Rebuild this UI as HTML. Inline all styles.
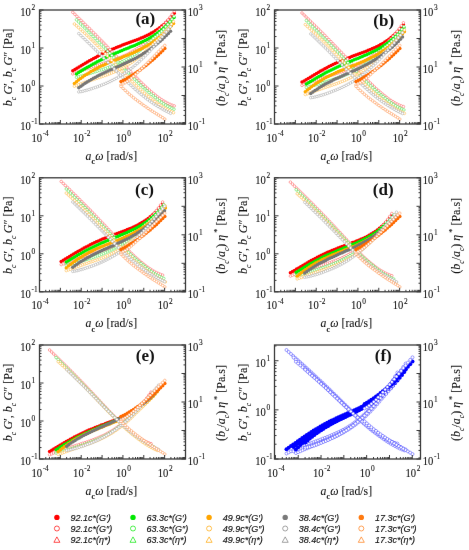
<!DOCTYPE html>
<html><head><meta charset="utf-8"><style>
html,body{margin:0;padding:0;background:#fff;width:469px;height:550px;overflow:hidden}
svg{display:block}
.tl{font-family:"Liberation Serif",serif;font-size:11.8px;fill:#111;stroke:#111;stroke-width:0.1px}
.sp{font-size:8.2px}
.at{font-family:"Liberation Serif",serif;font-size:12px;fill:#111;stroke:#111;stroke-width:0.08px}
.i{font-style:italic}
.xt{font-size:11.7px}
.sb{font-size:7.5px}
.b{font-weight:bold}
.pl{font-family:"Liberation Serif",serif;font-weight:bold;font-size:17px;fill:#111}
.lg{font-family:"Liberation Sans",sans-serif;font-style:italic;font-size:9px;fill:#111;stroke:#111;stroke-width:0.15px}
</style></head><body>
<svg width="469" height="550" viewBox="0 0 469 550">
<rect width="469" height="550" fill="#fff"/><filter id="bl" x="0" y="0" width="469" height="550" filterUnits="userSpaceOnUse" color-interpolation-filters="sRGB"><feConvolveMatrix order="3" kernelMatrix="0.0010 0.0313 0.0010 0.0313 1.0000 0.0313 0.0010 0.0313 0.0010" edgeMode="duplicate"/></filter><g filter="url(#bl)">
<defs>
<marker id="fr" markerUnits="userSpaceOnUse" markerWidth="6" markerHeight="6" refX="3" refY="3" overflow="visible"><circle cx="3" cy="3" r="1.75" fill="#ff0000"/></marker>
<marker id="or" markerUnits="userSpaceOnUse" markerWidth="6" markerHeight="6" refX="3" refY="3" overflow="visible"><circle cx="3" cy="3" r="1.3" fill="#fff" stroke="#ff5050" stroke-width="0.5"/></marker>
<marker id="fg" markerUnits="userSpaceOnUse" markerWidth="6" markerHeight="6" refX="3" refY="3" overflow="visible"><circle cx="3" cy="3" r="1.75" fill="#00ee00"/></marker>
<marker id="og" markerUnits="userSpaceOnUse" markerWidth="6" markerHeight="6" refX="3" refY="3" overflow="visible"><circle cx="3" cy="3" r="1.3" fill="#fff" stroke="#40e040" stroke-width="0.5"/></marker>
<marker id="fo" markerUnits="userSpaceOnUse" markerWidth="6" markerHeight="6" refX="3" refY="3" overflow="visible"><circle cx="3" cy="3" r="1.75" fill="#ffaa00"/></marker>
<marker id="oo" markerUnits="userSpaceOnUse" markerWidth="6" markerHeight="6" refX="3" refY="3" overflow="visible"><circle cx="3" cy="3" r="1.3" fill="#fff" stroke="#ffb030" stroke-width="0.5"/></marker>
<marker id="fk" markerUnits="userSpaceOnUse" markerWidth="6" markerHeight="6" refX="3" refY="3" overflow="visible"><circle cx="3" cy="3" r="1.75" fill="#777777"/></marker>
<marker id="ok" markerUnits="userSpaceOnUse" markerWidth="6" markerHeight="6" refX="3" refY="3" overflow="visible"><circle cx="3" cy="3" r="1.3" fill="#fff" stroke="#a0a0a0" stroke-width="0.5"/></marker>
<marker id="fd" markerUnits="userSpaceOnUse" markerWidth="6" markerHeight="6" refX="3" refY="3" overflow="visible"><circle cx="3" cy="3" r="1.75" fill="#ff6a00"/></marker>
<marker id="od" markerUnits="userSpaceOnUse" markerWidth="6" markerHeight="6" refX="3" refY="3" overflow="visible"><circle cx="3" cy="3" r="1.3" fill="#fff" stroke="#ff8a40" stroke-width="0.5"/></marker>
<marker id="fb" markerUnits="userSpaceOnUse" markerWidth="6" markerHeight="6" refX="3" refY="3" overflow="visible"><circle cx="3" cy="3" r="2.0" fill="#0000ff"/></marker>
<marker id="ob" markerUnits="userSpaceOnUse" markerWidth="6" markerHeight="6" refX="3" refY="3" overflow="visible"><circle cx="3" cy="3" r="1.5" fill="#fff" stroke="#4040ff" stroke-width="0.5"/></marker>
</defs>
<g fill="none" stroke="none">
<svg x="39.5" y="10.0" width="146.0" height="114.0" viewBox="39.5 10.0 146.0 114.0" overflow="hidden">
<polyline points="72.8,70.7 74.9,69.5 76.9,68.2 79,67 81.1,65.7 83.1,64.5 85.2,63.3 87.3,62 89.4,60.8 91.4,59.7 93.5,58.5 95.6,57.4 97.6,56.3 99.7,55.2 101.8,54.1 103.8,53.1 105.9,52.1 108,51.1 110,50.2 112.1,49.3 114.2,48.4 116.3,47.6 118.3,46.7 120.4,45.9 122.5,45.1 124.5,44.3 126.6,43.6 128.7,42.8 130.7,42 132.8,41.3 134.9,40.5 137,39.7 139,38.9 141.1,38 143.2,37.2 145.2,36.2 147.3,35.2 149.4,34.2 151.4,33.1 153.5,31.9 155.6,30.6 157.6,29.2 159.7,27.8 161.8,26.1 163.9,24.4 165.9,22.5 168,20.5 170.1,18.2 172.1,15.9 174.2,13.3" marker-start="url(#fr)" marker-mid="url(#fr)" marker-end="url(#fr)"/>
<polyline points="72.8,73.9 74.9,73.1 76.9,72.2 79,71.4 81.1,70.7 83.1,69.9 85.2,69.2 87.3,68.5 89.4,67.8 91.4,67.1 93.5,66.5 95.6,65.8 97.6,65.2 99.7,64.5 101.8,63.9 103.8,63.2 105.9,62.5 108,61.9 110,61.2 112.1,60.5 114.2,59.7 116.3,59 118.3,58.2 120.4,57.4 122.5,56.5 124.5,55.6 126.6,54.7 128.7,53.7 130.7,52.5 132.8,51.3 134.9,50.1 137,48.8 139,47.4 141.1,45.9 143.2,44.4 145.2,42.7 147.3,41 149.4,39.2 151.4,37.3 153.5,35.3 155.6,33.5 157.6,31.5 159.7,29.5 161.8,27.3 163.9,25 165.9,22.5 168,19.9 170.1,17.2 172.1,14.3 174.2,11.3" marker-start="url(#or)" marker-mid="url(#or)" marker-end="url(#or)"/>
<polyline points="72.8,12.3 74.9,14.3 76.9,16.4 79,18.4 81.1,20.4 83.1,22.4 85.2,24.5 87.3,26.5 89.4,28.5 91.4,30.6 93.5,32.7 95.6,34.7 97.6,36.8 99.7,38.9 101.8,41 103.8,43.1 105.9,45.3 108,47.4 110,49.6 112.1,51.8 114.2,54 116.3,56.2 118.3,58.4 120.4,60.6 122.5,62.8 124.5,65 126.6,67.3 128.7,69.5 130.7,71.7 132.8,73.9 134.9,76 137,78.2 139,80.3 141.1,82.3 143.2,84.4 145.2,86.3 147.3,88.2 149.4,90.1 151.4,91.9 153.5,93.6 155.6,95.3 157.6,96.9 159.7,98.4 161.8,99.8 163.9,101.1 165.9,102.3 168,103.4 170.1,104.4 172.1,105.2 174.2,105.9" marker-start="url(#or)" marker-mid="url(#or)" marker-end="url(#or)"/>
<polyline points="76.5,73.9 78.6,72.6 80.6,71.3 82.7,70.1 84.8,68.8 86.9,67.6 88.9,66.4 91,65.2 93.1,64.1 95.2,62.9 97.2,61.8 99.3,60.8 101.4,59.7 103.5,58.7 105.5,57.7 107.6,56.7 109.7,55.8 111.8,54.9 113.8,54 115.9,53.1 118,52.2 120.1,51.3 122.1,50.5 124.2,49.6 126.3,48.8 128.4,48 130.4,47.1 132.5,46.2 134.6,45.4 136.7,44.5 138.7,43.5 140.8,42.6 142.9,41.6 145,40.6 147,39.5 149.1,38.3 151.2,37.1 153.3,35.9 155.3,34.5 157.4,33.1 159.5,31.6 161.6,29.9 163.6,28.2 165.7,26.3 167.8,24.3 169.9,22.2 171.9,19.9 174,17.5" marker-start="url(#fg)" marker-mid="url(#fg)" marker-end="url(#fg)"/>
<polyline points="76.5,77.3 78.6,76.7 80.6,76.2 82.7,75.6 84.8,75 86.9,74.3 88.9,73.7 91,73.1 93.1,72.5 95.2,71.8 97.2,71.2 99.3,70.5 101.4,69.9 103.5,69.2 105.5,68.5 107.6,67.7 109.7,67 111.8,66.2 113.8,65.4 115.9,64.5 118,63.7 120.1,62.7 122.1,61.7 124.2,60.7 126.3,59.6 128.4,58.5 130.4,57.3 132.5,56 134.6,54.6 136.7,53.1 138.7,51.5 140.8,49.9 142.9,48.1 145,46.3 147,44.5 149.1,42.5 151.2,40.5 153.3,38.4 155.3,36.7 157.4,35 159.5,33.1 161.6,31.2 163.6,29.2 165.7,26.8 167.8,24.4 169.9,21.8 171.9,19.2 174,16.4" marker-start="url(#og)" marker-mid="url(#og)" marker-end="url(#og)"/>
<polyline points="76.5,19.8 78.6,21.9 80.6,24 82.7,26 84.8,28.1 86.9,30.2 88.9,32.2 91,34.3 93.1,36.4 95.2,38.5 97.2,40.6 99.3,42.7 101.4,44.8 103.5,46.9 105.5,49 107.6,51.2 109.7,53.3 111.8,55.5 113.8,57.7 115.9,59.8 118,62 120.1,64.2 122.1,66.4 124.2,68.6 126.3,70.7 128.4,72.9 130.4,75 132.5,77.1 134.6,79.2 136.7,81.2 138.7,83.3 140.8,85.2 142.9,87.2 145,89 147,90.8 149.1,92.6 151.2,94.3 153.3,95.9 155.3,97.6 157.4,99.3 159.5,100.9 161.6,102.4 163.6,103.8 165.7,105.1 167.8,106.3 169.9,107.3 171.9,108.3 174,109.2" marker-start="url(#og)" marker-mid="url(#og)" marker-end="url(#og)"/>
<polyline points="74.4,83.5 76.5,81.7 78.5,80.1 80.6,78.5 82.7,77 84.7,75.5 86.8,74.2 88.9,72.9 90.9,71.6 93,70.4 95,69.3 97.1,68.2 99.2,67.1 101.2,66.1 103.3,65.2 105.4,64.2 107.4,63.3 109.5,62.4 111.6,61.6 113.6,60.7 115.7,59.9 117.8,59.1 119.8,58.2 121.9,57.4 123.9,56.6 126,55.8 128.1,54.9 130.1,54 132.2,53.2 134.3,52.2 136.3,51.3 138.4,50.3 140.5,49.3 142.5,48.2 144.6,47.1 146.7,45.9 148.7,44.7 150.8,43.4 152.9,42 154.9,40.6 157,39.1 159,37.5 161.1,35.8 163.2,34 165.2,32.1 167.3,30.1 169.4,28 171.4,25.8 173.5,23.5" marker-start="url(#fo)" marker-mid="url(#fo)" marker-end="url(#fo)"/>
<polyline points="74.4,86.2 76.5,85.5 78.5,84.8 80.6,84 82.7,83.3 84.7,82.5 86.8,81.8 88.9,81.1 90.9,80.3 93,79.6 95,78.9 97.1,78.2 99.2,77.5 101.2,76.8 103.3,76.1 105.4,75.4 107.4,74.6 109.5,73.8 111.6,73 113.6,72.2 115.7,71.3 117.8,70.3 119.8,69.3 121.9,68.3 123.9,67.2 126,66 128.1,64.8 130.1,63.5 132.2,62.1 134.3,60.6 136.3,59.1 138.4,57.5 140.5,55.9 142.5,54.1 144.6,52.3 146.7,50.4 148.7,48.4 150.8,46.4 152.9,44.3 154.9,42.4 157,40.4 159,38.4 161.1,36.3 163.2,34.1 165.2,31.7 167.3,29.2 169.4,26.7 171.4,24.2 173.5,21.6" marker-start="url(#oo)" marker-mid="url(#oo)" marker-end="url(#oo)"/>
<polyline points="74.4,24 76.5,25.8 78.5,27.6 80.6,29.5 82.7,31.3 84.7,33.2 86.8,35.2 88.9,37.1 90.9,39.1 93,41.1 95,43.2 97.1,45.3 99.2,47.3 101.2,49.5 103.3,51.6 105.4,53.7 107.4,55.9 109.5,58.1 111.6,60.3 113.6,62.4 115.7,64.6 117.8,66.8 119.8,69 121.9,71.2 123.9,73.3 126,75.5 128.1,77.6 130.1,79.7 132.2,81.7 134.3,83.8 136.3,85.8 138.4,87.7 140.5,89.6 142.5,91.5 144.6,93.3 146.7,95 148.7,96.7 150.8,98.4 152.9,99.9 154.9,101.5 157,103 159,104.5 161.1,105.9 163.2,107.2 165.2,108.5 167.3,109.6 169.4,110.7 171.4,111.7 173.5,112.7" marker-start="url(#oo)" marker-mid="url(#oo)" marker-end="url(#oo)"/>
<polyline points="78.8,87.8 80.9,86.2 83,84.7 85.1,83.3 87.1,82 89.2,80.7 91.3,79.5 93.4,78.3 95.5,77.2 97.6,76.1 99.6,75 101.7,74 103.8,73 105.9,72 108,71.1 110.1,70.1 112.1,69.2 114.2,68.3 116.3,67.3 118.4,66.4 120.5,65.5 122.6,64.5 124.6,63.6 126.7,62.6 128.8,61.6 130.9,60.5 133,59.5 135.1,58.4 137.2,57.3 139.2,56.1 141.3,54.9 143.4,53.6 145.5,52.3 147.6,50.9 149.7,49.5 151.7,48 153.8,46.4 155.9,44.8 158,43.1 160.1,41.3 162.2,39.5 164.2,37.5 166.3,35.5 168.4,33.4 170.5,31.2" marker-start="url(#fk)" marker-mid="url(#fk)" marker-end="url(#fk)"/>
<polyline points="78.8,91.9 80.9,91.6 83,91.2 85.1,90.6 87.1,90.1 89.2,89.5 91.3,88.8 93.4,88.1 95.5,87.4 97.6,86.7 99.6,85.9 101.7,85.1 103.8,84.3 105.9,83.4 108,82.5 110.1,81.5 112.1,80.5 114.2,79.4 116.3,78.3 118.4,77.1 120.5,75.9 122.6,74.6 124.6,73.2 126.7,71.8 128.8,70.3 130.9,68.7 133,67.1 135.1,65.3 137.2,63.5 139.2,61.7 141.3,59.7 143.4,57.7 145.5,55.6 147.6,53.5 149.7,51.3 151.7,49 153.8,46.7 155.9,44.4 158,42 160.1,39.5 162.2,37 164.2,34.5 166.3,31.9 168.4,29.4 170.5,26.8" marker-start="url(#ok)" marker-mid="url(#ok)" marker-end="url(#ok)"/>
<polyline points="78.8,33.6 80.9,35.6 83,37.6 85.1,39.6 87.1,41.6 89.2,43.6 91.3,45.7 93.4,47.7 95.5,49.8 97.6,51.9 99.6,54 101.7,56.1 103.8,58.2 105.9,60.3 108,62.5 110.1,64.6 112.1,66.8 114.2,68.9 116.3,71 118.4,73.1 120.5,75.2 122.6,77.3 124.6,79.4 126.7,81.4 128.8,83.4 130.9,85.3 133,87.3 135.1,89.2 137.2,91 139.2,92.8 141.3,94.5 143.4,96.2 145.5,97.9 147.6,99.5 149.7,101 151.7,102.4 153.8,103.9 155.9,105.2 158,106.5 160.1,107.7 162.2,108.9 164.2,110.1 166.3,111.2 168.4,112.2 170.5,113.3" marker-start="url(#ok)" marker-mid="url(#ok)" marker-end="url(#ok)"/>
<polyline points="121,81.6 123.1,80.5 125.2,79.4 127.3,78.2 129.3,77 131.4,75.7 133.5,74.4 135.6,73 137.7,71.6 139.8,70.2 141.9,68.6 143.9,67.1 146,65.4 148.1,63.8 150.2,62.1 152.3,60.3 154.4,58.5 156.5,56.6 158.5,54.7 160.6,52.7 162.7,50.7 164.8,48.6" marker-start="url(#fd)" marker-mid="url(#fd)" marker-end="url(#fd)"/>
<polyline points="121,84.9 123.1,83.9 125.2,82.7 127.3,81.3 129.3,79.8 131.4,78.1 133.5,76.3 135.6,74.4 137.7,72.4 139.8,70.4 141.9,68.4 143.9,66.4 146,64.4 148.1,62.3 150.2,60.2 152.3,58.1 154.4,55.9 156.5,53.7 158.5,51.6 160.6,49.5 162.7,47.4 164.8,45.4" marker-start="url(#od)" marker-mid="url(#od)" marker-end="url(#od)"/>
<polyline points="121,86.4 123.1,88.4 125.2,90.4 127.3,92.3 129.3,94.2 131.4,95.9 133.5,97.7 135.6,99.3 137.7,100.9 139.8,102.4 141.9,104 143.9,105.5 146,106.9 148.1,108.4 150.2,109.8 152.3,111.2 154.4,112.5 156.5,113.8 158.5,115.1 160.6,116.4 162.7,117.7 164.8,119.1" marker-start="url(#od)" marker-mid="url(#od)" marker-end="url(#od)"/>
</svg>
<svg x="274.5" y="10.0" width="146.0" height="114.0" viewBox="274.5 10.0 146.0 114.0" overflow="hidden">
<polyline points="302,82.1 304.1,80.9 306.1,79.7 308.2,78.4 310.3,77.2 312.3,76 314.4,74.7 316.5,73.5 318.6,72.3 320.6,71.1 322.7,69.9 324.8,68.8 326.8,67.7 328.9,66.6 331,65.6 333,64.5 335.1,63.5 337.2,62.6 339.2,61.6 341.3,60.7 343.4,59.9 345.5,59 347.5,58.2 349.6,57.4 351.7,56.6 353.7,55.8 355.8,55 357.9,54.3 359.9,53.5 362,52.7 364.1,51.9 366.2,51.2 368.2,50.3 370.3,49.5 372.4,48.6 374.4,47.7 376.5,46.7 378.6,45.7 380.6,44.5 382.7,43.4 384.8,42.1 386.8,40.7 388.9,39.2 391,37.6 393.1,35.8 395.1,34 397.2,31.9 399.3,29.7 401.3,27.3 403.4,24.7" marker-start="url(#fr)" marker-mid="url(#fr)" marker-end="url(#fr)"/>
<polyline points="302,85.4 304.1,84.5 306.1,83.7 308.2,82.9 310.3,82.1 312.3,81.4 314.4,80.6 316.5,79.9 318.6,79.2 320.6,78.6 322.7,77.9 324.8,77.3 326.8,76.6 328.9,76 331,75.3 333,74.7 335.1,74 337.2,73.3 339.2,72.6 341.3,71.9 343.4,71.2 345.5,70.4 347.5,69.6 349.6,68.8 351.7,68 353.7,67.1 355.8,66.1 357.9,65.1 359.9,64 362,62.8 364.1,61.5 366.2,60.2 368.2,58.8 370.3,57.3 372.4,55.8 374.4,54.2 376.5,52.5 378.6,50.6 380.6,48.7 382.7,46.7 384.8,44.9 386.8,43 388.9,40.9 391,38.7 393.1,36.4 395.1,34 397.2,31.4 399.3,28.7 401.3,25.8 403.4,22.8" marker-start="url(#or)" marker-mid="url(#or)" marker-end="url(#or)"/>
<polyline points="302,13 304.1,15 306.1,17 308.2,19 310.3,21.1 312.3,23.1 314.4,25.1 316.5,27.2 318.6,29.2 320.6,31.3 322.7,33.3 324.8,35.4 326.8,37.5 328.9,39.6 331,41.7 333,43.8 335.1,45.9 337.2,48.1 339.2,50.3 341.3,52.4 343.4,54.6 345.5,56.8 347.5,59 349.6,61.3 351.7,63.5 353.7,65.7 355.8,67.9 357.9,70.1 359.9,72.3 362,74.5 364.1,76.7 366.2,78.8 368.2,80.9 370.3,83 372.4,85 374.4,87 376.5,88.9 378.6,90.7 380.6,92.5 382.7,94.2 384.8,95.9 386.8,97.5 388.9,99.1 391,100.5 393.1,101.8 395.1,103 397.2,104.1 399.3,105.1 401.3,105.9 403.4,106.6" marker-start="url(#or)" marker-mid="url(#or)" marker-end="url(#or)"/>
<polyline points="306.4,84.1 308.5,82.8 310.5,81.5 312.6,80.3 314.7,79 316.8,77.8 318.8,76.6 320.9,75.4 323,74.3 325.1,73.1 327.1,72 329.2,71 331.3,69.9 333.4,68.9 335.4,67.9 337.5,66.9 339.6,66 341.7,65.1 343.7,64.2 345.8,63.3 347.9,62.4 350,61.5 352,60.7 354.1,59.8 356.2,59 358.3,58.2 360.3,57.3 362.4,56.4 364.5,55.6 366.6,54.7 368.6,53.7 370.7,52.8 372.8,51.8 374.9,50.8 376.9,49.7 379,48.5 381.1,47.3 383.2,46.1 385.2,44.7 387.3,43.3 389.4,41.8 391.5,40.1 393.5,38.4 395.6,36.5 397.7,34.5 399.8,32.4 401.8,30.1 403.9,27.7" marker-start="url(#fg)" marker-mid="url(#fg)" marker-end="url(#fg)"/>
<polyline points="306.4,87.5 308.5,86.9 310.5,86.4 312.6,85.8 314.7,85.2 316.8,84.5 318.8,83.9 320.9,83.3 323,82.7 325.1,82 327.1,81.4 329.2,80.7 331.3,80.1 333.4,79.4 335.4,78.7 337.5,77.9 339.6,77.2 341.7,76.4 343.7,75.6 345.8,74.7 347.9,73.9 350,72.9 352,71.9 354.1,70.9 356.2,69.8 358.3,68.7 360.3,67.5 362.4,66.2 364.5,64.8 366.6,63.3 368.6,61.7 370.7,60.1 372.8,58.3 374.9,56.5 376.9,54.7 379,52.7 381.1,50.7 383.2,48.6 385.2,46.9 387.3,45.2 389.4,43.3 391.5,41.4 393.5,39.4 395.6,37 397.7,34.6 399.8,32 401.8,29.4 403.9,26.6" marker-start="url(#og)" marker-mid="url(#og)" marker-end="url(#og)"/>
<polyline points="306.4,20.5 308.5,22.6 310.5,24.7 312.6,26.7 314.7,28.8 316.8,30.8 318.8,32.9 320.9,35 323,37.1 325.1,39.1 327.1,41.2 329.2,43.3 331.3,45.5 333.4,47.6 335.4,49.7 337.5,51.9 339.6,54 341.7,56.2 343.7,58.4 345.8,60.5 347.9,62.7 350,64.9 352,67.1 354.1,69.2 356.2,71.4 358.3,73.5 360.3,75.7 362.4,77.8 364.5,79.9 366.6,81.9 368.6,83.9 370.7,85.9 372.8,87.8 374.9,89.7 376.9,91.5 379,93.3 381.1,95 383.2,96.6 385.2,98.3 387.3,100 389.4,101.6 391.5,103.1 393.5,104.5 395.6,105.8 397.7,106.9 399.8,108 401.8,109 403.9,109.9" marker-start="url(#og)" marker-mid="url(#og)" marker-end="url(#og)"/>
<polyline points="305.3,91.8 307.4,90 309.5,88.4 311.5,86.8 313.6,85.3 315.7,83.8 317.7,82.5 319.8,81.2 321.9,79.9 323.9,78.7 326,77.6 328.1,76.5 330.1,75.4 332.2,74.4 334.3,73.5 336.3,72.5 338.4,71.6 340.4,70.7 342.5,69.9 344.6,69 346.6,68.2 348.7,67.4 350.8,66.5 352.8,65.7 354.9,64.9 357,64.1 359,63.2 361.1,62.3 363.2,61.5 365.2,60.5 367.3,59.6 369.4,58.6 371.4,57.6 373.5,56.5 375.5,55.4 377.6,54.2 379.7,53 381.7,51.7 383.8,50.3 385.9,48.9 387.9,47.4 390,45.8 392.1,44.1 394.1,42.3 396.2,40.4 398.3,38.4 400.3,36.3 402.4,34.1 404.4,31.8" marker-start="url(#fo)" marker-mid="url(#fo)" marker-end="url(#fo)"/>
<polyline points="305.3,94.5 307.4,93.8 309.5,93.1 311.5,92.3 313.6,91.6 315.7,90.8 317.7,90.1 319.8,89.4 321.9,88.6 323.9,87.9 326,87.2 328.1,86.5 330.1,85.8 332.2,85.1 334.3,84.4 336.3,83.7 338.4,82.9 340.4,82.1 342.5,81.3 344.6,80.5 346.6,79.6 348.7,78.6 350.8,77.6 352.8,76.6 354.9,75.5 357,74.3 359,73.1 361.1,71.8 363.2,70.4 365.2,68.9 367.3,67.4 369.4,65.8 371.4,64.2 373.5,62.4 375.5,60.6 377.6,58.7 379.7,56.7 381.7,54.7 383.8,52.6 385.9,50.7 387.9,48.7 390,46.7 392.1,44.6 394.1,42.4 396.2,40 398.3,37.5 400.3,35 402.4,32.5 404.4,29.9" marker-start="url(#oo)" marker-mid="url(#oo)" marker-end="url(#oo)"/>
<polyline points="305.3,24.6 307.4,26.5 309.5,28.3 311.5,30.2 313.6,32 315.7,33.9 317.7,35.9 319.8,37.8 321.9,39.8 323.9,41.8 326,43.9 328.1,45.9 330.1,48 332.2,50.2 334.3,52.3 336.3,54.4 338.4,56.6 340.4,58.8 342.5,61 344.6,63.1 346.6,65.3 348.7,67.5 350.8,69.7 352.8,71.9 354.9,74 357,76.2 359,78.3 361.1,80.4 363.2,82.4 365.2,84.5 367.3,86.5 369.4,88.4 371.4,90.3 373.5,92.2 375.5,94 377.6,95.7 379.7,97.4 381.7,99 383.8,100.6 385.9,102.2 387.9,103.7 390,105.2 392.1,106.6 394.1,107.9 396.2,109.2 398.3,110.3 400.3,111.4 402.4,112.4 404.4,113.4" marker-start="url(#oo)" marker-mid="url(#oo)" marker-end="url(#oo)"/>
<polyline points="310.8,93.6 312.9,92.1 315,90.6 317.1,89.2 319.1,87.8 321.2,86.6 323.3,85.3 325.4,84.1 327.5,83 329.6,81.9 331.6,80.9 333.7,79.8 335.8,78.8 337.9,77.9 340,76.9 342.1,76 344.1,75 346.2,74.1 348.3,73.2 350.4,72.3 352.5,71.3 354.6,70.4 356.6,69.4 358.7,68.4 360.8,67.4 362.9,66.4 365,65.3 367.1,64.2 369.2,63.1 371.2,61.9 373.3,60.7 375.4,59.4 377.5,58.1 379.6,56.7 381.7,55.3 383.7,53.8 385.8,52.3 387.9,50.6 390,48.9 392.1,47.2 394.2,45.3 396.2,43.4 398.3,41.4 400.4,39.3 402.5,37.1" marker-start="url(#fk)" marker-mid="url(#fk)" marker-end="url(#fk)"/>
<polyline points="310.8,97.7 312.9,97.4 315,97 317.1,96.5 319.1,95.9 321.2,95.3 323.3,94.7 325.4,94 327.5,93.3 329.6,92.5 331.6,91.7 333.7,90.9 335.8,90.1 337.9,89.2 340,88.3 342.1,87.4 344.1,86.4 346.2,85.3 348.3,84.2 350.4,83 352.5,81.8 354.6,80.5 356.6,79.1 358.7,77.6 360.8,76.1 362.9,74.6 365,72.9 367.1,71.2 369.2,69.4 371.2,67.5 373.3,65.6 375.4,63.6 377.5,61.5 379.6,59.4 381.7,57.2 383.7,54.9 385.8,52.6 387.9,50.2 390,47.8 392.1,45.4 394.2,42.9 396.2,40.3 398.3,37.8 400.4,35.2 402.5,32.7" marker-start="url(#ok)" marker-mid="url(#ok)" marker-end="url(#ok)"/>
<polyline points="310.8,33.9 312.9,35.9 315,37.9 317.1,39.9 319.1,41.9 321.2,43.9 323.3,45.9 325.4,48 327.5,50.1 329.6,52.2 331.6,54.3 333.7,56.4 335.8,58.5 337.9,60.6 340,62.8 342.1,64.9 344.1,67 346.2,69.2 348.3,71.3 350.4,73.4 352.5,75.5 354.6,77.6 356.6,79.6 358.7,81.7 360.8,83.7 362.9,85.6 365,87.6 367.1,89.4 369.2,91.3 371.2,93.1 373.3,94.8 375.4,96.5 377.5,98.2 379.6,99.7 381.7,101.3 383.7,102.7 385.8,104.1 387.9,105.5 390,106.8 392.1,108 394.2,109.2 396.2,110.4 398.3,111.5 400.4,112.5 402.5,113.5" marker-start="url(#ok)" marker-mid="url(#ok)" marker-end="url(#ok)"/>
<polyline points="356,81.6 358.1,80.5 360.2,79.4 362.3,78.2 364.3,77 366.4,75.7 368.5,74.4 370.6,73 372.7,71.6 374.8,70.2 376.9,68.6 378.9,67.1 381,65.4 383.1,63.8 385.2,62.1 387.3,60.3 389.4,58.5 391.5,56.6 393.5,54.7 395.6,52.7 397.7,50.7 399.8,48.6" marker-start="url(#fd)" marker-mid="url(#fd)" marker-end="url(#fd)"/>
<polyline points="356,84.9 358.1,83.9 360.2,82.7 362.3,81.3 364.3,79.8 366.4,78.1 368.5,76.3 370.6,74.4 372.7,72.4 374.8,70.4 376.9,68.4 378.9,66.4 381,64.4 383.1,62.3 385.2,60.2 387.3,58.1 389.4,55.9 391.5,53.7 393.5,51.6 395.6,49.5 397.7,47.4 399.8,45.4" marker-start="url(#od)" marker-mid="url(#od)" marker-end="url(#od)"/>
<polyline points="356,86.4 358.1,88.4 360.2,90.4 362.3,92.3 364.3,94.2 366.4,95.9 368.5,97.7 370.6,99.3 372.7,100.9 374.8,102.4 376.9,104 378.9,105.5 381,106.9 383.1,108.4 385.2,109.8 387.3,111.2 389.4,112.5 391.5,113.8 393.5,115.1 395.6,116.4 397.7,117.7 399.8,119.1" marker-start="url(#od)" marker-mid="url(#od)" marker-end="url(#od)"/>
</svg>
<svg x="39.5" y="177.8" width="146.0" height="114.0" viewBox="39.5 177.8 146.0 114.0" overflow="hidden">
<polyline points="61.2,261.4 63.3,260.2 65.3,258.9 67.4,257.7 69.5,256.4 71.5,255.2 73.6,254 75.7,252.7 77.8,251.5 79.8,250.4 81.9,249.2 84,248.1 86,247 88.1,245.9 90.2,244.8 92.2,243.8 94.3,242.8 96.4,241.8 98.4,240.9 100.5,240 102.6,239.1 104.7,238.3 106.7,237.4 108.8,236.6 110.9,235.8 112.9,235 115,234.3 117.1,233.5 119.1,232.7 121.2,232 123.3,231.2 125.4,230.4 127.4,229.6 129.5,228.7 131.6,227.9 133.6,226.9 135.7,225.9 137.8,224.9 139.8,223.8 141.9,222.6 144,221.3 146,219.9 148.1,218.5 150.2,216.8 152.3,215.1 154.3,213.2 156.4,211.2 158.5,208.9 160.5,206.6 162.6,204" marker-start="url(#fr)" marker-mid="url(#fr)" marker-end="url(#fr)"/>
<polyline points="61.2,264.6 63.3,263.8 65.3,262.9 67.4,262.1 69.5,261.4 71.5,260.6 73.6,259.9 75.7,259.2 77.8,258.5 79.8,257.8 81.9,257.2 84,256.5 86,255.9 88.1,255.2 90.2,254.6 92.2,253.9 94.3,253.2 96.4,252.6 98.4,251.9 100.5,251.2 102.6,250.4 104.7,249.7 106.7,248.9 108.8,248.1 110.9,247.2 112.9,246.3 115,245.4 117.1,244.4 119.1,243.2 121.2,242 123.3,240.8 125.4,239.5 127.4,238.1 129.5,236.6 131.6,235.1 133.6,233.4 135.7,231.7 137.8,229.9 139.8,228 141.9,226 144,224.2 146,222.2 148.1,220.2 150.2,218 152.3,215.7 154.3,213.2 156.4,210.6 158.5,207.9 160.5,205 162.6,202" marker-start="url(#or)" marker-mid="url(#or)" marker-end="url(#or)"/>
<polyline points="61.2,181.5 63.3,183.5 65.3,185.5 67.4,187.5 69.5,189.5 71.5,191.6 73.6,193.6 75.7,195.6 77.8,197.7 79.8,199.7 81.9,201.8 84,203.9 86,205.9 88.1,208 90.2,210.1 92.2,212.3 94.3,214.4 96.4,216.6 98.4,218.7 100.5,220.9 102.6,223.1 104.7,225.3 106.7,227.5 108.8,229.7 110.9,231.9 112.9,234.2 115,236.4 117.1,238.6 119.1,240.8 121.2,243 123.3,245.1 125.4,247.3 127.4,249.4 129.5,251.5 131.6,253.5 133.6,255.4 135.7,257.4 137.8,259.2 139.8,261 141.9,262.7 144,264.4 146,266 148.1,267.5 150.2,268.9 152.3,270.3 154.3,271.5 156.4,272.6 158.5,273.5 160.5,274.4 162.6,275.1" marker-start="url(#or)" marker-mid="url(#or)" marker-end="url(#or)"/>
<polyline points="66.3,262.1 68.4,260.8 70.4,259.5 72.5,258.3 74.6,257 76.7,255.8 78.7,254.6 80.8,253.4 82.9,252.3 85,251.1 87,250 89.1,249 91.2,247.9 93.3,246.9 95.3,245.9 97.4,244.9 99.5,244 101.6,243.1 103.6,242.2 105.7,241.3 107.8,240.4 109.9,239.5 111.9,238.7 114,237.8 116.1,237 118.2,236.2 120.2,235.3 122.3,234.4 124.4,233.6 126.5,232.7 128.5,231.7 130.6,230.8 132.7,229.8 134.8,228.8 136.8,227.7 138.9,226.5 141,225.3 143.1,224.1 145.1,222.7 147.2,221.3 149.3,219.8 151.4,218.1 153.4,216.4 155.5,214.5 157.6,212.5 159.7,210.4 161.7,208.1 163.8,205.7" marker-start="url(#fg)" marker-mid="url(#fg)" marker-end="url(#fg)"/>
<polyline points="66.3,265.5 68.4,264.9 70.4,264.4 72.5,263.8 74.6,263.2 76.7,262.5 78.7,261.9 80.8,261.3 82.9,260.7 85,260 87,259.4 89.1,258.7 91.2,258.1 93.3,257.4 95.3,256.7 97.4,255.9 99.5,255.2 101.6,254.4 103.6,253.6 105.7,252.7 107.8,251.9 109.9,250.9 111.9,249.9 114,248.9 116.1,247.8 118.2,246.7 120.2,245.5 122.3,244.2 124.4,242.8 126.5,241.3 128.5,239.7 130.6,238.1 132.7,236.3 134.8,234.5 136.8,232.7 138.9,230.7 141,228.7 143.1,226.6 145.1,224.9 147.2,223.2 149.3,221.3 151.4,219.4 153.4,217.4 155.5,215 157.6,212.6 159.7,210 161.7,207.4 163.8,204.6" marker-start="url(#og)" marker-mid="url(#og)" marker-end="url(#og)"/>
<polyline points="66.3,189 68.4,191.1 70.4,193.1 72.5,195.2 74.6,197.3 76.7,199.3 78.7,201.4 80.8,203.5 82.9,205.5 85,207.6 87,209.7 89.1,211.8 91.2,213.9 93.3,216.1 95.3,218.2 97.4,220.3 99.5,222.5 101.6,224.7 103.6,226.8 105.7,229 107.8,231.2 109.9,233.4 111.9,235.5 114,237.7 116.1,239.9 118.2,242 120.2,244.2 122.3,246.3 124.4,248.4 126.5,250.4 128.5,252.4 130.6,254.4 132.7,256.3 134.8,258.2 136.8,260 138.9,261.8 141,263.5 143.1,265.1 145.1,266.8 147.2,268.5 149.3,270 151.4,271.6 153.4,273 155.5,274.2 157.6,275.4 159.7,276.5 161.7,277.5 163.8,278.4" marker-start="url(#og)" marker-mid="url(#og)" marker-end="url(#og)"/>
<polyline points="66.3,267.9 68.4,266.1 70.4,264.5 72.5,262.9 74.6,261.4 76.6,259.9 78.7,258.6 80.8,257.3 82.8,256 84.9,254.8 86.9,253.7 89,252.6 91.1,251.5 93.1,250.5 95.2,249.6 97.3,248.6 99.3,247.7 101.4,246.8 103.5,246 105.5,245.1 107.6,244.3 109.7,243.5 111.7,242.6 113.8,241.8 115.8,241 117.9,240.2 120,239.3 122,238.4 124.1,237.6 126.2,236.6 128.2,235.7 130.3,234.7 132.4,233.7 134.4,232.6 136.5,231.5 138.6,230.3 140.6,229.1 142.7,227.8 144.8,226.4 146.8,225 148.9,223.5 150.9,221.9 153,220.2 155.1,218.4 157.1,216.5 159.2,214.5 161.3,212.4 163.3,210.2 165.4,207.9" marker-start="url(#fo)" marker-mid="url(#fo)" marker-end="url(#fo)"/>
<polyline points="66.3,270.6 68.4,269.9 70.4,269.2 72.5,268.4 74.6,267.7 76.6,266.9 78.7,266.2 80.8,265.5 82.8,264.7 84.9,264 86.9,263.3 89,262.6 91.1,261.9 93.1,261.2 95.2,260.5 97.3,259.8 99.3,259 101.4,258.2 103.5,257.4 105.5,256.6 107.6,255.7 109.7,254.7 111.7,253.7 113.8,252.7 115.8,251.6 117.9,250.4 120,249.2 122,247.9 124.1,246.5 126.2,245 128.2,243.5 130.3,241.9 132.4,240.3 134.4,238.5 136.5,236.7 138.6,234.8 140.6,232.8 142.7,230.8 144.8,228.7 146.8,226.8 148.9,224.8 150.9,222.8 153,220.7 155.1,218.5 157.1,216.1 159.2,213.6 161.3,211.1 163.3,208.6 165.4,206" marker-start="url(#oo)" marker-mid="url(#oo)" marker-end="url(#oo)"/>
<polyline points="66.3,193.1 68.4,195 70.4,196.8 72.5,198.7 74.6,200.5 76.6,202.4 78.7,204.4 80.8,206.3 82.8,208.3 84.9,210.3 86.9,212.4 89,214.4 91.1,216.5 93.1,218.6 95.2,220.8 97.3,222.9 99.3,225.1 101.4,227.3 103.5,229.4 105.5,231.6 107.6,233.8 109.7,236 111.7,238.2 113.8,240.3 115.8,242.5 117.9,244.6 120,246.8 122,248.9 124.1,250.9 126.2,253 128.2,254.9 130.3,256.9 132.4,258.8 134.4,260.7 136.5,262.5 138.6,264.2 140.6,265.9 142.7,267.5 144.8,269.1 146.8,270.7 148.9,272.2 150.9,273.7 153,275.1 155.1,276.4 157.1,277.6 159.2,278.8 161.3,279.9 163.3,280.9 165.4,281.9" marker-start="url(#oo)" marker-mid="url(#oo)" marker-end="url(#oo)"/>
<polyline points="72.8,267.3 74.9,265.7 77,264.2 79.1,262.8 81.1,261.5 83.2,260.2 85.3,259 87.4,257.8 89.5,256.7 91.6,255.6 93.6,254.5 95.7,253.5 97.8,252.5 99.9,251.5 102,250.6 104.1,249.6 106.1,248.7 108.2,247.8 110.3,246.8 112.4,245.9 114.5,245 116.6,244 118.6,243.1 120.7,242.1 122.8,241.1 124.9,240 127,239 129.1,237.9 131.2,236.8 133.2,235.6 135.3,234.4 137.4,233.1 139.5,231.8 141.6,230.4 143.7,229 145.7,227.5 147.8,225.9 149.9,224.3 152,222.6 154.1,220.8 156.2,219 158.2,217 160.3,215 162.4,212.9 164.5,210.7" marker-start="url(#fk)" marker-mid="url(#fk)" marker-end="url(#fk)"/>
<polyline points="72.8,271.4 74.9,271.1 77,270.7 79.1,270.1 81.1,269.6 83.2,269 85.3,268.3 87.4,267.6 89.5,266.9 91.6,266.2 93.6,265.4 95.7,264.6 97.8,263.8 99.9,262.9 102,262 104.1,261 106.1,260 108.2,258.9 110.3,257.8 112.4,256.6 114.5,255.4 116.6,254.1 118.6,252.7 120.7,251.3 122.8,249.8 124.9,248.2 127,246.6 129.1,244.8 131.2,243 133.2,241.2 135.3,239.2 137.4,237.2 139.5,235.1 141.6,233 143.7,230.8 145.7,228.5 147.8,226.2 149.9,223.9 152,221.5 154.1,219 156.2,216.5 158.2,214 160.3,211.4 162.4,208.9 164.5,206.3" marker-start="url(#ok)" marker-mid="url(#ok)" marker-end="url(#ok)"/>
<polyline points="72.8,202 74.9,204 77,206 79.1,208 81.1,210 83.2,212 85.3,214 87.4,216.1 89.5,218.2 91.6,220.2 93.6,222.3 95.7,224.5 97.8,226.6 99.9,228.7 102,230.9 104.1,233 106.1,235.1 108.2,237.3 110.3,239.4 112.4,241.5 114.5,243.6 116.6,245.7 118.6,247.7 120.7,249.8 122.8,251.8 124.9,253.7 127,255.6 129.1,257.5 131.2,259.4 133.2,261.2 135.3,262.9 137.4,264.6 139.5,266.3 141.6,267.8 143.7,269.4 145.7,270.8 147.8,272.2 149.9,273.6 152,274.9 154.1,276.1 156.2,277.3 158.2,278.5 160.3,279.6 162.4,280.6 164.5,281.6" marker-start="url(#ok)" marker-mid="url(#ok)" marker-end="url(#ok)"/>
<polyline points="121,249.4 123.1,248.3 125.2,247.2 127.3,246 129.3,244.8 131.4,243.5 133.5,242.2 135.6,240.8 137.7,239.4 139.8,238 141.9,236.4 143.9,234.9 146,233.2 148.1,231.6 150.2,229.9 152.3,228.1 154.4,226.3 156.5,224.4 158.5,222.5 160.6,220.5 162.7,218.5 164.8,216.4" marker-start="url(#fd)" marker-mid="url(#fd)" marker-end="url(#fd)"/>
<polyline points="121,252.7 123.1,251.7 125.2,250.5 127.3,249.1 129.3,247.6 131.4,245.9 133.5,244.1 135.6,242.2 137.7,240.2 139.8,238.2 141.9,236.2 143.9,234.2 146,232.2 148.1,230.1 150.2,228 152.3,225.9 154.4,223.7 156.5,221.5 158.5,219.4 160.6,217.3 162.7,215.2 164.8,213.2" marker-start="url(#od)" marker-mid="url(#od)" marker-end="url(#od)"/>
<polyline points="121,254.2 123.1,256.2 125.2,258.2 127.3,260.1 129.3,262 131.4,263.7 133.5,265.5 135.6,267.1 137.7,268.7 139.8,270.2 141.9,271.8 143.9,273.3 146,274.7 148.1,276.2 150.2,277.6 152.3,279 154.4,280.3 156.5,281.6 158.5,282.9 160.6,284.2 162.7,285.5 164.8,286.9" marker-start="url(#od)" marker-mid="url(#od)" marker-end="url(#od)"/>
</svg>
<svg x="274.5" y="177.8" width="146.0" height="114.0" viewBox="274.5 177.8 146.0 114.0" overflow="hidden">
<polyline points="290.4,272.8 292.5,271.6 294.5,270.4 296.6,269.1 298.7,267.9 300.7,266.7 302.8,265.4 304.9,264.2 307,263 309,261.8 311.1,260.6 313.2,259.5 315.2,258.4 317.3,257.3 319.4,256.3 321.4,255.2 323.5,254.2 325.6,253.3 327.6,252.3 329.7,251.4 331.8,250.6 333.9,249.7 335.9,248.9 338,248.1 340.1,247.3 342.1,246.5 344.2,245.7 346.3,245 348.3,244.2 350.4,243.4 352.5,242.6 354.6,241.9 356.6,241 358.7,240.2 360.8,239.3 362.8,238.4 364.9,237.4 367,236.4 369,235.2 371.1,234.1 373.2,232.8 375.2,231.4 377.3,229.9 379.4,228.3 381.5,226.5 383.5,224.7 385.6,222.6 387.7,220.4 389.7,218 391.8,215.4" marker-start="url(#fr)" marker-mid="url(#fr)" marker-end="url(#fr)"/>
<polyline points="290.4,276.1 292.5,275.2 294.5,274.4 296.6,273.6 298.7,272.8 300.7,272.1 302.8,271.3 304.9,270.6 307,269.9 309,269.3 311.1,268.6 313.2,268 315.2,267.3 317.3,266.7 319.4,266 321.4,265.4 323.5,264.7 325.6,264 327.6,263.3 329.7,262.6 331.8,261.9 333.9,261.1 335.9,260.3 338,259.5 340.1,258.7 342.1,257.8 344.2,256.8 346.3,255.8 348.3,254.7 350.4,253.5 352.5,252.2 354.6,250.9 356.6,249.5 358.7,248 360.8,246.5 362.8,244.9 364.9,243.2 367,241.3 369,239.4 371.1,237.4 373.2,235.6 375.2,233.7 377.3,231.6 379.4,229.4 381.5,227.1 383.5,224.7 385.6,222.1 387.7,219.4 389.7,216.5 391.8,213.5" marker-start="url(#or)" marker-mid="url(#or)" marker-end="url(#or)"/>
<polyline points="290.4,182.1 292.5,184.1 294.5,186.2 296.6,188.2 298.7,190.2 300.7,192.2 302.8,194.2 304.9,196.3 307,198.3 309,200.4 311.1,202.4 313.2,204.5 315.2,206.6 317.3,208.7 319.4,210.8 321.4,212.9 323.5,215.1 325.6,217.2 327.6,219.4 329.7,221.6 331.8,223.8 333.9,226 335.9,228.2 338,230.4 340.1,232.6 342.1,234.8 344.2,237.1 346.3,239.3 348.3,241.5 350.4,243.6 352.5,245.8 354.6,247.9 356.6,250 358.7,252.1 360.8,254.1 362.8,256.1 364.9,258 367,259.9 369,261.6 371.1,263.4 373.2,265 375.2,266.7 377.3,268.2 379.4,269.6 381.5,270.9 383.5,272.1 385.6,273.2 387.7,274.2 389.7,275 391.8,275.7" marker-start="url(#or)" marker-mid="url(#or)" marker-end="url(#or)"/>
<polyline points="296.2,272.3 298.3,271 300.3,269.7 302.4,268.5 304.5,267.2 306.6,266 308.6,264.8 310.7,263.6 312.8,262.5 314.9,261.3 316.9,260.2 319,259.2 321.1,258.1 323.2,257.1 325.2,256.1 327.3,255.1 329.4,254.2 331.5,253.3 333.5,252.4 335.6,251.5 337.7,250.6 339.8,249.7 341.8,248.9 343.9,248 346,247.2 348.1,246.4 350.1,245.5 352.2,244.6 354.3,243.8 356.4,242.9 358.4,241.9 360.5,241 362.6,240 364.7,239 366.7,237.9 368.8,236.7 370.9,235.5 373,234.3 375,232.9 377.1,231.5 379.2,230 381.3,228.3 383.3,226.6 385.4,224.7 387.5,222.7 389.6,220.6 391.6,218.3 393.7,215.9" marker-start="url(#fg)" marker-mid="url(#fg)" marker-end="url(#fg)"/>
<polyline points="296.2,275.7 298.3,275.1 300.3,274.6 302.4,274 304.5,273.4 306.6,272.7 308.6,272.1 310.7,271.5 312.8,270.9 314.9,270.2 316.9,269.6 319,268.9 321.1,268.3 323.2,267.6 325.2,266.9 327.3,266.1 329.4,265.4 331.5,264.6 333.5,263.8 335.6,262.9 337.7,262.1 339.8,261.1 341.8,260.1 343.9,259.1 346,258 348.1,256.9 350.1,255.7 352.2,254.4 354.3,253 356.4,251.5 358.4,249.9 360.5,248.3 362.6,246.5 364.7,244.7 366.7,242.9 368.8,240.9 370.9,238.9 373,236.8 375,235.1 377.1,233.4 379.2,231.5 381.3,229.6 383.3,227.6 385.4,225.2 387.5,222.8 389.6,220.2 391.6,217.6 393.7,214.8" marker-start="url(#og)" marker-mid="url(#og)" marker-end="url(#og)"/>
<polyline points="296.2,189.7 298.3,191.8 300.3,193.8 302.4,195.9 304.5,197.9 306.6,200 308.6,202.1 310.7,204.1 312.8,206.2 314.9,208.3 316.9,210.4 319,212.5 321.1,214.6 323.2,216.7 325.2,218.9 327.3,221 329.4,223.2 331.5,225.3 333.5,227.5 335.6,229.7 337.7,231.9 339.8,234 341.8,236.2 343.9,238.4 346,240.6 348.1,242.7 350.1,244.8 352.2,247 354.3,249 356.4,251.1 358.4,253.1 360.5,255.1 362.6,257 364.7,258.9 366.7,260.7 368.8,262.4 370.9,264.1 373,265.8 375,267.5 377.1,269.1 379.2,270.7 381.3,272.2 383.3,273.7 385.4,274.9 387.5,276.1 389.6,277.2 391.6,278.2 393.7,279" marker-start="url(#og)" marker-mid="url(#og)" marker-end="url(#og)"/>
<polyline points="297.2,276.2 299.3,274.4 301.4,272.8 303.4,271.2 305.5,269.7 307.6,268.2 309.6,266.9 311.7,265.6 313.8,264.3 315.8,263.1 317.9,262 320,260.9 322,259.8 324.1,258.8 326.2,257.9 328.2,256.9 330.3,256 332.3,255.1 334.4,254.3 336.5,253.4 338.5,252.6 340.6,251.8 342.7,250.9 344.7,250.1 346.8,249.3 348.9,248.5 350.9,247.6 353,246.7 355.1,245.9 357.1,244.9 359.2,244 361.3,243 363.3,242 365.4,240.9 367.4,239.8 369.5,238.6 371.6,237.4 373.6,236.1 375.7,234.7 377.8,233.3 379.8,231.8 381.9,230.2 384,228.5 386,226.7 388.1,224.8 390.2,222.8 392.2,220.7 394.3,218.5 396.3,216.2" marker-start="url(#fo)" marker-mid="url(#fo)" marker-end="url(#fo)"/>
<polyline points="297.2,278.9 299.3,278.2 301.4,277.5 303.4,276.7 305.5,276 307.6,275.2 309.6,274.5 311.7,273.8 313.8,273 315.8,272.3 317.9,271.6 320,270.9 322,270.2 324.1,269.5 326.2,268.8 328.2,268.1 330.3,267.3 332.3,266.5 334.4,265.7 336.5,264.9 338.5,264 340.6,263 342.7,262 344.7,261 346.8,259.9 348.9,258.7 350.9,257.5 353,256.2 355.1,254.8 357.1,253.3 359.2,251.8 361.3,250.2 363.3,248.6 365.4,246.8 367.4,245 369.5,243.1 371.6,241.1 373.6,239.1 375.7,237 377.8,235.1 379.8,233.1 381.9,231.1 384,229 386,226.8 388.1,224.4 390.2,221.9 392.2,219.4 394.3,216.9 396.3,214.3" marker-start="url(#oo)" marker-mid="url(#oo)" marker-end="url(#oo)"/>
<polyline points="297.2,193.8 299.3,195.7 301.4,197.5 303.4,199.3 305.5,201.2 307.6,203.1 309.6,205 311.7,207 313.8,209 315.8,211 317.9,213.1 320,215.1 322,217.2 324.1,219.3 326.2,221.5 328.2,223.6 330.3,225.8 332.3,228 334.4,230.1 336.5,232.3 338.5,234.5 340.6,236.7 342.7,238.9 344.7,241 346.8,243.2 348.9,245.3 350.9,247.5 353,249.5 355.1,251.6 357.1,253.6 359.2,255.6 361.3,257.6 363.3,259.5 365.4,261.4 367.4,263.2 369.5,264.9 371.6,266.6 373.6,268.2 375.7,269.8 377.8,271.4 379.8,272.9 381.9,274.4 384,275.8 386,277.1 388.1,278.3 390.2,279.5 392.2,280.6 394.3,281.6 396.3,282.5" marker-start="url(#oo)" marker-mid="url(#oo)" marker-end="url(#oo)"/>
<polyline points="304.8,273.1 306.9,271.6 309,270.1 311.1,268.7 313.1,267.3 315.2,266.1 317.3,264.8 319.4,263.6 321.5,262.5 323.6,261.4 325.6,260.4 327.7,259.3 329.8,258.3 331.9,257.4 334,256.4 336.1,255.5 338.1,254.5 340.2,253.6 342.3,252.7 344.4,251.8 346.5,250.8 348.6,249.9 350.6,248.9 352.7,247.9 354.8,246.9 356.9,245.9 359,244.8 361.1,243.7 363.2,242.6 365.2,241.4 367.3,240.2 369.4,238.9 371.5,237.6 373.6,236.2 375.7,234.8 377.7,233.3 379.8,231.8 381.9,230.1 384,228.4 386.1,226.7 388.2,224.8 390.2,222.9 392.3,220.9 394.4,218.8 396.5,216.6" marker-start="url(#fk)" marker-mid="url(#fk)" marker-end="url(#fk)"/>
<polyline points="304.8,277.2 306.9,276.9 309,276.5 311.1,276 313.1,275.4 315.2,274.8 317.3,274.2 319.4,273.5 321.5,272.8 323.6,272 325.6,271.2 327.7,270.4 329.8,269.6 331.9,268.7 334,267.8 336.1,266.9 338.1,265.9 340.2,264.8 342.3,263.7 344.4,262.5 346.5,261.3 348.6,260 350.6,258.6 352.7,257.1 354.8,255.6 356.9,254.1 359,252.4 361.1,250.7 363.2,248.9 365.2,247 367.3,245.1 369.4,243.1 371.5,241 373.6,238.9 375.7,236.7 377.7,234.4 379.8,232.1 381.9,229.7 384,227.3 386.1,224.9 388.2,222.4 390.2,219.8 392.3,217.3 394.4,214.7 396.5,212.2" marker-start="url(#ok)" marker-mid="url(#ok)" marker-end="url(#ok)"/>
<polyline points="304.8,202.3 306.9,204.3 309,206.3 311.1,208.3 313.1,210.3 315.2,212.3 317.3,214.3 319.4,216.4 321.5,218.4 323.6,220.5 325.6,222.6 327.7,224.7 329.8,226.9 331.9,229 334,231.1 336.1,233.3 338.1,235.4 340.2,237.5 342.3,239.7 344.4,241.8 346.5,243.9 348.6,246 350.6,248 352.7,250 354.8,252 356.9,254 359,255.9 361.1,257.8 363.2,259.7 365.2,261.5 367.3,263.2 369.4,264.9 371.5,266.5 373.6,268.1 375.7,269.6 377.7,271.1 379.8,272.5 381.9,273.9 384,275.2 386.1,276.4 388.2,277.6 390.2,278.7 392.3,279.8 394.4,280.9 396.5,281.9" marker-start="url(#ok)" marker-mid="url(#ok)" marker-end="url(#ok)"/>
<polyline points="356,249.4 358.1,248.3 360.2,247.2 362.3,246 364.3,244.8 366.4,243.5 368.5,242.2 370.6,240.8 372.7,239.4 374.8,238 376.9,236.4 378.9,234.9 381,233.2 383.1,231.6 385.2,229.9 387.3,228.1 389.4,226.3 391.5,224.4 393.5,222.5 395.6,220.5 397.7,218.5 399.8,216.4" marker-start="url(#fd)" marker-mid="url(#fd)" marker-end="url(#fd)"/>
<polyline points="356,252.7 358.1,251.7 360.2,250.5 362.3,249.1 364.3,247.6 366.4,245.9 368.5,244.1 370.6,242.2 372.7,240.2 374.8,238.2 376.9,236.2 378.9,234.2 381,232.2 383.1,230.1 385.2,228 387.3,225.9 389.4,223.7 391.5,221.5 393.5,219.4 395.6,217.3 397.7,215.2 399.8,213.2" marker-start="url(#od)" marker-mid="url(#od)" marker-end="url(#od)"/>
<polyline points="356,254.2 358.1,256.2 360.2,258.2 362.3,260.1 364.3,262 366.4,263.7 368.5,265.5 370.6,267.1 372.7,268.7 374.8,270.2 376.9,271.8 378.9,273.3 381,274.7 383.1,276.2 385.2,277.6 387.3,279 389.4,280.3 391.5,281.6 393.5,282.9 395.6,284.2 397.7,285.5 399.8,286.9" marker-start="url(#od)" marker-mid="url(#od)" marker-end="url(#od)"/>
</svg>
<svg x="39.5" y="345.0" width="146.0" height="114.0" viewBox="39.5 345.0 146.0 114.0" overflow="hidden">
<polyline points="49.6,451.5 51.7,450.3 53.7,449 55.8,447.8 57.9,446.5 59.9,445.3 62,444.1 64.1,442.8 66.2,441.6 68.2,440.5 70.3,439.3 72.4,438.2 74.4,437.1 76.5,436 78.6,434.9 80.6,433.9 82.7,432.9 84.8,431.9 86.8,431 88.9,430.1 91,429.2 93.1,428.4 95.1,427.5 97.2,426.7 99.3,425.9 101.3,425.1 103.4,424.4 105.5,423.6 107.5,422.8 109.6,422.1 111.7,421.3 113.8,420.5 115.8,419.7 117.9,418.8 120,418 122,417 124.1,416 126.2,415 128.2,413.9 130.3,412.7 132.4,411.4 134.4,410 136.5,408.6 138.6,406.9 140.7,405.2 142.7,403.3 144.8,401.3 146.9,399 148.9,396.7 151,394.1" marker-start="url(#fr)" marker-mid="url(#fr)" marker-end="url(#fr)"/>
<polyline points="49.6,454.7 51.7,453.9 53.7,453 55.8,452.2 57.9,451.5 59.9,450.7 62,450 64.1,449.3 66.2,448.6 68.2,447.9 70.3,447.3 72.4,446.6 74.4,446 76.5,445.3 78.6,444.7 80.6,444 82.7,443.3 84.8,442.7 86.8,442 88.9,441.3 91,440.5 93.1,439.8 95.1,439 97.2,438.2 99.3,437.3 101.3,436.4 103.4,435.5 105.5,434.5 107.5,433.3 109.6,432.1 111.7,430.9 113.8,429.6 115.8,428.2 117.9,426.7 120,425.2 122,423.5 124.1,421.8 126.2,420 128.2,418.1 130.3,416.1 132.4,414.3 134.4,412.3 136.5,410.3 138.6,408.1 140.7,405.8 142.7,403.3 144.8,400.7 146.9,398 148.9,395.1 151,392.1" marker-start="url(#or)" marker-mid="url(#or)" marker-end="url(#or)"/>
<polyline points="49.6,350 51.7,352 53.7,354 55.8,356 57.9,358.1 59.9,360.1 62,362.1 64.1,364.1 66.2,366.2 68.2,368.2 70.3,370.3 72.4,372.4 74.4,374.5 76.5,376.6 78.6,378.7 80.6,380.8 82.7,382.9 84.8,385.1 86.8,387.2 88.9,389.4 91,391.6 93.1,393.8 95.1,396 97.2,398.2 99.3,400.5 101.3,402.7 103.4,404.9 105.5,407.1 107.5,409.3 109.6,411.5 111.7,413.7 113.8,415.8 115.8,417.9 117.9,420 120,422 122,424 124.1,425.9 126.2,427.7 128.2,429.5 130.3,431.2 132.4,432.9 134.4,434.5 136.5,436 138.6,437.5 140.7,438.8 142.7,440 144.8,441.1 146.9,442.1 148.9,442.9 151,443.6" marker-start="url(#or)" marker-mid="url(#or)" marker-end="url(#or)"/>
<polyline points="56.1,449.7 58.2,448.4 60.2,447.1 62.3,445.9 64.4,444.6 66.5,443.4 68.5,442.2 70.6,441 72.7,439.9 74.8,438.7 76.8,437.6 78.9,436.6 81,435.5 83.1,434.5 85.1,433.5 87.2,432.5 89.3,431.6 91.4,430.7 93.4,429.8 95.5,428.9 97.6,428 99.7,427.1 101.7,426.3 103.8,425.4 105.9,424.6 108,423.8 110,422.9 112.1,422 114.2,421.2 116.3,420.3 118.3,419.3 120.4,418.4 122.5,417.4 124.6,416.4 126.6,415.3 128.7,414.1 130.8,412.9 132.9,411.7 134.9,410.3 137,408.9 139.1,407.4 141.2,405.7 143.2,404 145.3,402.1 147.4,400.1 149.5,398 151.5,395.7 153.6,393.3" marker-start="url(#fg)" marker-mid="url(#fg)" marker-end="url(#fg)"/>
<polyline points="56.1,453.1 58.2,452.5 60.2,452 62.3,451.4 64.4,450.8 66.5,450.1 68.5,449.5 70.6,448.9 72.7,448.3 74.8,447.6 76.8,447 78.9,446.3 81,445.7 83.1,445 85.1,444.3 87.2,443.5 89.3,442.8 91.4,442 93.4,441.2 95.5,440.3 97.6,439.5 99.7,438.5 101.7,437.5 103.8,436.5 105.9,435.4 108,434.3 110,433.1 112.1,431.8 114.2,430.4 116.3,428.9 118.3,427.3 120.4,425.7 122.5,423.9 124.6,422.1 126.6,420.3 128.7,418.3 130.8,416.3 132.9,414.2 134.9,412.5 137,410.8 139.1,408.9 141.2,407 143.2,405 145.3,402.6 147.4,400.2 149.5,397.6 151.5,395 153.6,392.2" marker-start="url(#og)" marker-mid="url(#og)" marker-end="url(#og)"/>
<polyline points="56.1,357.6 58.2,359.6 60.2,361.7 62.3,363.8 64.4,365.8 66.5,367.9 68.5,369.9 70.6,372 72.7,374.1 74.8,376.2 76.8,378.3 78.9,380.4 81,382.5 83.1,384.6 85.1,386.8 87.2,388.9 89.3,391.1 91.4,393.2 93.4,395.4 95.5,397.6 97.6,399.7 99.7,401.9 101.7,404.1 103.8,406.3 105.9,408.4 108,410.6 110,412.7 112.1,414.8 114.2,416.9 116.3,419 118.3,421 120.4,423 122.5,424.9 124.6,426.8 126.6,428.6 128.7,430.3 130.8,432 132.9,433.6 134.9,435.4 137,437 139.1,438.6 141.2,440.1 143.2,441.5 145.3,442.8 147.4,444 149.5,445.1 151.5,446 153.6,446.9" marker-start="url(#og)" marker-mid="url(#og)" marker-end="url(#og)"/>
<polyline points="58.2,451.7 60.3,449.9 62.3,448.3 64.4,446.7 66.5,445.2 68.5,443.7 70.6,442.4 72.7,441.1 74.7,439.8 76.8,438.6 78.8,437.5 80.9,436.4 83,435.3 85,434.3 87.1,433.4 89.2,432.4 91.2,431.5 93.3,430.6 95.4,429.8 97.4,428.9 99.5,428.1 101.6,427.3 103.6,426.4 105.7,425.6 107.7,424.8 109.8,424 111.9,423.1 113.9,422.2 116,421.4 118.1,420.4 120.1,419.5 122.2,418.5 124.3,417.5 126.3,416.4 128.4,415.3 130.5,414.1 132.5,412.9 134.6,411.6 136.7,410.2 138.7,408.8 140.8,407.3 142.8,405.7 144.9,404 147,402.2 149,400.3 151.1,398.3 153.2,396.2 155.2,394 157.3,391.7" marker-start="url(#fo)" marker-mid="url(#fo)" marker-end="url(#fo)"/>
<polyline points="58.2,454.4 60.3,453.7 62.3,453 64.4,452.2 66.5,451.5 68.5,450.7 70.6,450 72.7,449.3 74.7,448.5 76.8,447.8 78.8,447.1 80.9,446.4 83,445.7 85,445 87.1,444.3 89.2,443.6 91.2,442.8 93.3,442 95.4,441.2 97.4,440.4 99.5,439.5 101.6,438.5 103.6,437.5 105.7,436.5 107.7,435.4 109.8,434.2 111.9,433 113.9,431.7 116,430.3 118.1,428.8 120.1,427.3 122.2,425.7 124.3,424.1 126.3,422.3 128.4,420.5 130.5,418.6 132.5,416.6 134.6,414.6 136.7,412.5 138.7,410.6 140.8,408.6 142.8,406.6 144.9,404.5 147,402.3 149,399.9 151.1,397.4 153.2,394.9 155.2,392.4 157.3,389.8" marker-start="url(#oo)" marker-mid="url(#oo)" marker-end="url(#oo)"/>
<polyline points="58.2,361.7 60.3,363.5 62.3,365.4 64.4,367.2 66.5,369.1 68.5,371 70.6,372.9 72.7,374.9 74.7,376.9 76.8,378.9 78.8,380.9 80.9,383 83,385.1 85,387.2 87.1,389.4 89.2,391.5 91.2,393.7 93.3,395.8 95.4,398 97.4,400.2 99.5,402.4 101.6,404.6 103.6,406.8 105.7,408.9 107.7,411.1 109.8,413.2 111.9,415.3 113.9,417.4 116,419.5 118.1,421.5 120.1,423.5 122.2,425.5 124.3,427.4 126.3,429.3 128.4,431.1 130.5,432.8 132.5,434.5 134.6,436.1 136.7,437.7 138.7,439.3 140.8,440.8 142.8,442.3 144.9,443.7 147,445 149,446.2 151.1,447.4 153.2,448.5 155.2,449.5 157.3,450.4" marker-start="url(#oo)" marker-mid="url(#oo)" marker-end="url(#oo)"/>
<polyline points="66.8,446.2 68.9,444.6 71,443.1 73.1,441.7 75.1,440.4 77.2,439.1 79.3,437.9 81.4,436.7 83.5,435.6 85.6,434.5 87.6,433.4 89.7,432.4 91.8,431.4 93.9,430.4 96,429.5 98.1,428.5 100.1,427.6 102.2,426.7 104.3,425.7 106.4,424.8 108.5,423.9 110.6,422.9 112.6,422 114.7,421 116.8,420 118.9,418.9 121,417.9 123.1,416.8 125.2,415.7 127.2,414.5 129.3,413.3 131.4,412 133.5,410.7 135.6,409.3 137.7,407.9 139.7,406.4 141.8,404.8 143.9,403.2 146,401.5 148.1,399.7 150.2,397.9 152.2,395.9 154.3,393.9 156.4,391.8 158.5,389.6" marker-start="url(#fk)" marker-mid="url(#fk)" marker-end="url(#fk)"/>
<polyline points="66.8,450.3 68.9,450 71,449.6 73.1,449 75.1,448.5 77.2,447.9 79.3,447.2 81.4,446.5 83.5,445.8 85.6,445.1 87.6,444.3 89.7,443.5 91.8,442.7 93.9,441.8 96,440.9 98.1,439.9 100.1,438.9 102.2,437.8 104.3,436.7 106.4,435.5 108.5,434.3 110.6,433 112.6,431.6 114.7,430.2 116.8,428.7 118.9,427.1 121,425.5 123.1,423.7 125.2,421.9 127.2,420.1 129.3,418.1 131.4,416.1 133.5,414 135.6,411.9 137.7,409.7 139.7,407.4 141.8,405.1 143.9,402.8 146,400.4 148.1,397.9 150.2,395.4 152.2,392.9 154.3,390.3 156.4,387.8 158.5,385.2" marker-start="url(#ok)" marker-mid="url(#ok)" marker-end="url(#ok)"/>
<polyline points="66.8,369.7 68.9,371.8 71,373.8 73.1,375.8 75.1,377.8 77.2,379.8 79.3,381.8 81.4,383.9 83.5,385.9 85.6,388 87.6,390.1 89.7,392.2 91.8,394.4 93.9,396.5 96,398.6 98.1,400.8 100.1,402.9 102.2,405 104.3,407.2 106.4,409.3 108.5,411.4 110.6,413.4 112.6,415.5 114.7,417.5 116.8,419.5 118.9,421.5 121,423.4 123.1,425.3 125.2,427.2 127.2,429 129.3,430.7 131.4,432.4 133.5,434 135.6,435.6 137.7,437.1 139.7,438.6 141.8,440 143.9,441.4 146,442.7 148.1,443.9 150.2,445.1 152.2,446.2 154.3,447.3 156.4,448.4 158.5,449.4" marker-start="url(#ok)" marker-mid="url(#ok)" marker-end="url(#ok)"/>
<polyline points="121,416.6 123.1,415.5 125.2,414.4 127.3,413.2 129.3,412 131.4,410.7 133.5,409.4 135.6,408 137.7,406.6 139.8,405.2 141.9,403.6 143.9,402.1 146,400.4 148.1,398.8 150.2,397.1 152.3,395.3 154.4,393.5 156.5,391.6 158.5,389.7 160.6,387.7 162.7,385.7 164.8,383.6" marker-start="url(#fd)" marker-mid="url(#fd)" marker-end="url(#fd)"/>
<polyline points="121,419.9 123.1,418.9 125.2,417.7 127.3,416.3 129.3,414.8 131.4,413.1 133.5,411.3 135.6,409.4 137.7,407.4 139.8,405.4 141.9,403.4 143.9,401.4 146,399.4 148.1,397.3 150.2,395.2 152.3,393.1 154.4,390.9 156.5,388.7 158.5,386.6 160.6,384.5 162.7,382.4 164.8,380.4" marker-start="url(#od)" marker-mid="url(#od)" marker-end="url(#od)"/>
<polyline points="121,421.4 123.1,423.4 125.2,425.4 127.3,427.3 129.3,429.2 131.4,430.9 133.5,432.7 135.6,434.3 137.7,435.9 139.8,437.4 141.9,439 143.9,440.5 146,441.9 148.1,443.4 150.2,444.8 152.3,446.2 154.4,447.5 156.5,448.8 158.5,450.1 160.6,451.4 162.7,452.7 164.8,454.1" marker-start="url(#od)" marker-mid="url(#od)" marker-end="url(#od)"/>
</svg>
<svg x="274.5" y="345.0" width="146.0" height="114.0" viewBox="274.5 345.0 146.0 114.0" overflow="hidden">
<polyline points="286.5,449.3 288.7,447.7 291,446.1 293.2,444.5 295.5,442.9 297.8,441.3 300,439.7 302.3,438.1 304.6,436.6 306.8,435 309.1,433.5 311.4,432.1 313.6,430.6 315.9,429.2 318.1,427.9 320.4,426.5 322.7,425.2 324.9,424 327.2,422.8 329.5,421.6 331.7,420.5 334,419.4 336.3,418.3 338.5,417.3 340.8,416.2 343,415.2 345.3,414.2 347.6,413.2 349.8,412.2 352.1,411.3 354.4,410.2 356.6,409.2 358.9,408.2 361.2,407.1 363.4,405.9 365.7,404.7 367.9,403.5 370.2,402.1 372.5,400.7 374.7,399.1 377,397.5 379.3,395.7 381.5,393.8 383.8,391.7 386,389.4 388.3,387 390.6,384.3 392.8,381.5 395.1,378.4 397.4,375" marker-start="url(#fb)" marker-mid="url(#fb)" marker-end="url(#fb)"/>
<polyline points="286.5,453.5 288.7,452.4 291,451.3 293.2,450.3 295.5,449.3 297.8,448.3 300,447.4 302.3,446.4 304.6,445.5 306.8,444.7 309.1,443.8 311.4,443 313.6,442.1 315.9,441.3 318.1,440.5 320.4,439.6 322.7,438.7 324.9,437.9 327.2,437 329.5,436.1 331.7,435.1 334,434.1 336.3,433.1 338.5,432.1 340.8,431 343,429.8 345.3,428.6 347.6,427.3 349.8,425.8 352.1,424.3 354.4,422.6 356.6,420.9 358.9,419.1 361.2,417.2 363.4,415.2 365.7,413.1 367.9,410.9 370.2,408.6 372.5,406.1 374.7,403.5 377,401.2 379.3,398.6 381.5,396 383.8,393.1 386,390.2 388.3,387 390.6,383.7 392.8,380.1 395.1,376.4 397.4,372.5" marker-start="url(#ob)" marker-mid="url(#ob)" marker-end="url(#ob)"/>
<polyline points="286.5,350 288.7,352 291,354 293.2,356 295.5,358.1 297.8,360.1 300,362.1 302.3,364.1 304.6,366.2 306.8,368.2 309.1,370.3 311.4,372.4 313.6,374.5 315.9,376.6 318.1,378.7 320.4,380.8 322.7,382.9 324.9,385.1 327.2,387.2 329.5,389.4 331.7,391.6 334,393.8 336.3,396 338.5,398.2 340.8,400.5 343,402.7 345.3,404.9 347.6,407.1 349.8,409.3 352.1,411.5 354.4,413.7 356.6,415.8 358.9,417.9 361.2,420 363.4,422 365.7,424 367.9,425.9 370.2,427.7 372.5,429.5 374.7,431.2 377,432.9 379.3,434.5 381.5,436 383.8,437.5 386,438.8 388.3,440 390.6,441.1 392.8,442.1 395.1,442.9 397.4,443.6" marker-start="url(#ob)" marker-mid="url(#ob)" marker-end="url(#ob)"/>
<polyline points="293.6,447 295.8,445.3 298.1,443.6 300.4,442 302.6,440.4 304.9,438.8 307.2,437.3 309.5,435.7 311.7,434.2 314,432.8 316.3,431.4 318.5,430 320.8,428.6 323.1,427.3 325.3,426 327.6,424.8 329.9,423.6 332.1,422.4 334.4,421.2 336.7,420.1 338.9,418.9 341.2,417.8 343.5,416.7 345.8,415.6 348,414.5 350.3,413.4 352.6,412.3 354.8,411.2 357.1,410.1 359.4,408.9 361.6,407.7 363.9,406.5 366.2,405.2 368.4,403.9 370.7,402.5 373,401 375.3,399.4 377.5,397.8 379.8,396 382.1,394.2 384.3,392.2 386.6,390.1 388.9,387.9 391.1,385.5 393.4,382.9 395.7,380.1 397.9,377.2 400.2,374.1" marker-start="url(#fb)" marker-mid="url(#fb)" marker-end="url(#fb)"/>
<polyline points="293.6,451.3 295.8,450.6 298.1,449.9 300.4,449.1 302.6,448.3 304.9,447.5 307.2,446.7 309.5,445.9 311.7,445.1 314,444.3 316.3,443.5 318.5,442.6 320.8,441.7 323.1,440.9 325.3,440 327.6,439 329.9,438 332.1,437 334.4,436 336.7,434.9 338.9,433.7 341.2,432.5 343.5,431.2 345.8,429.9 348,428.5 350.3,427 352.6,425.5 354.8,423.9 357.1,422 359.4,420.1 361.6,418 363.9,415.9 366.2,413.7 368.4,411.3 370.7,408.9 373,406.4 375.3,403.7 377.5,401 379.8,398.9 382.1,396.6 384.3,394.2 386.6,391.7 388.9,389.1 391.1,386.1 393.4,382.9 395.7,379.6 397.9,376.2 400.2,372.6" marker-start="url(#ob)" marker-mid="url(#ob)" marker-end="url(#ob)"/>
<polyline points="293.6,357.6 295.8,359.6 298.1,361.7 300.4,363.8 302.6,365.8 304.9,367.9 307.2,369.9 309.5,372 311.7,374.1 314,376.2 316.3,378.3 318.5,380.4 320.8,382.5 323.1,384.6 325.3,386.8 327.6,388.9 329.9,391.1 332.1,393.2 334.4,395.4 336.7,397.6 338.9,399.7 341.2,401.9 343.5,404.1 345.8,406.3 348,408.4 350.3,410.6 352.6,412.7 354.8,414.8 357.1,416.9 359.4,419 361.6,421 363.9,423 366.2,424.9 368.4,426.8 370.7,428.6 373,430.3 375.3,432 377.5,433.6 379.8,435.4 382.1,437 384.3,438.6 386.6,440.1 388.9,441.5 391.1,442.8 393.4,444 395.7,445.1 397.9,446 400.2,446.9" marker-start="url(#ob)" marker-mid="url(#ob)" marker-end="url(#ob)"/>
<polyline points="295.9,449.6 298.1,447.3 300.4,445.1 302.6,443.1 304.9,441.1 307.2,439.3 309.4,437.5 311.7,435.8 313.9,434.2 316.2,432.6 318.4,431.2 320.7,429.7 323,428.4 325.2,427.1 327.5,425.8 329.7,424.6 332,423.5 334.3,422.3 336.5,421.2 338.8,420.1 341,419 343.3,418 345.5,416.9 347.8,415.8 350.1,414.8 352.3,413.7 354.6,412.6 356.8,411.5 359.1,410.3 361.4,409.1 363.6,407.9 365.9,406.6 368.1,405.3 370.4,403.9 372.6,402.5 374.9,401 377.2,399.4 379.4,397.7 381.7,396 383.9,394.1 386.2,392.1 388.4,390.1 390.7,387.9 393,385.6 395.2,383.1 397.5,380.6 399.7,377.8 402,375 404.3,372" marker-start="url(#fb)" marker-mid="url(#fb)" marker-end="url(#fb)"/>
<polyline points="295.9,453.1 298.1,452.2 300.4,451.2 302.6,450.2 304.9,449.3 307.2,448.3 309.4,447.3 311.7,446.4 313.9,445.5 316.2,444.6 318.4,443.7 320.7,442.8 323,441.9 325.2,440.9 327.5,440 329.7,439.1 332,438.1 334.3,437.1 336.5,436 338.8,434.9 341,433.7 343.3,432.5 345.5,431.2 347.8,429.9 350.1,428.4 352.3,426.9 354.6,425.3 356.8,423.6 359.1,421.9 361.4,420 363.6,418 365.9,416 368.1,413.8 370.4,411.6 372.6,409.2 374.9,406.8 377.2,404.2 379.4,401.6 381.7,398.9 383.9,396.4 386.2,393.9 388.4,391.2 390.7,388.5 393,385.7 395.2,382.6 397.5,379.4 399.7,376.2 402,372.9 404.3,369.5" marker-start="url(#ob)" marker-mid="url(#ob)" marker-end="url(#ob)"/>
<polyline points="295.9,361.7 298.1,363.5 300.4,365.4 302.6,367.2 304.9,369.1 307.2,371 309.4,372.9 311.7,374.9 313.9,376.9 316.2,378.9 318.4,380.9 320.7,383 323,385.1 325.2,387.2 327.5,389.4 329.7,391.5 332,393.7 334.3,395.8 336.5,398 338.8,400.2 341,402.4 343.3,404.6 345.5,406.8 347.8,408.9 350.1,411.1 352.3,413.2 354.6,415.3 356.8,417.4 359.1,419.5 361.4,421.5 363.6,423.5 365.9,425.5 368.1,427.4 370.4,429.3 372.6,431.1 374.9,432.8 377.2,434.5 379.4,436.1 381.7,437.7 383.9,439.3 386.2,440.8 388.4,442.3 390.7,443.7 393,445 395.2,446.2 397.5,447.4 399.7,448.5 402,449.5 404.3,450.4" marker-start="url(#ob)" marker-mid="url(#ob)" marker-end="url(#ob)"/>
<polyline points="305.3,442.4 307.6,440.4 309.8,438.5 312.1,436.7 314.4,434.9 316.7,433.3 318.9,431.7 321.2,430.2 323.5,428.7 325.8,427.3 328.1,425.9 330.3,424.6 332.6,423.3 334.9,422 337.2,420.8 339.5,419.6 341.7,418.4 344,417.2 346.3,416 348.6,414.8 350.9,413.6 353.1,412.3 355.4,411.1 357.7,409.8 360,408.5 362.3,407.2 364.5,405.8 366.8,404.4 369.1,402.9 371.4,401.4 373.7,399.8 375.9,398.2 378.2,396.5 380.5,394.7 382.8,392.9 385.1,390.9 387.3,388.9 389.6,386.8 391.9,384.6 394.2,382.3 396.5,379.9 398.7,377.4 401,374.8 403.3,372.1 405.6,369.3" marker-start="url(#fb)" marker-mid="url(#fb)" marker-end="url(#fb)"/>
<polyline points="305.3,447.7 307.6,447.3 309.8,446.8 312.1,446.1 314.4,445.4 316.7,444.6 318.9,443.7 321.2,442.9 323.5,441.9 325.8,441 328.1,440 330.3,438.9 332.6,437.9 334.9,436.7 337.2,435.6 339.5,434.3 341.7,433 344,431.6 346.3,430.2 348.6,428.7 350.9,427.1 353.1,425.4 355.4,423.6 357.7,421.8 360,419.8 362.3,417.8 364.5,415.6 366.8,413.4 369.1,411.1 371.4,408.6 373.7,406.1 375.9,403.5 378.2,400.9 380.5,398.1 382.8,395.3 385.1,392.3 387.3,389.3 389.6,386.3 391.9,383.2 394.2,380 396.5,376.8 398.7,373.5 401,370.2 403.3,366.9 405.6,363.6" marker-start="url(#ob)" marker-mid="url(#ob)" marker-end="url(#ob)"/>
<polyline points="305.3,369.7 307.6,371.8 309.8,373.8 312.1,375.8 314.4,377.8 316.7,379.8 318.9,381.8 321.2,383.9 323.5,385.9 325.8,388 328.1,390.1 330.3,392.2 332.6,394.4 334.9,396.5 337.2,398.6 339.5,400.8 341.7,402.9 344,405 346.3,407.2 348.6,409.3 350.9,411.4 353.1,413.4 355.4,415.5 357.7,417.5 360,419.5 362.3,421.5 364.5,423.4 366.8,425.3 369.1,427.2 371.4,429 373.7,430.7 375.9,432.4 378.2,434 380.5,435.6 382.8,437.1 385.1,438.6 387.3,440 389.6,441.4 391.9,442.7 394.2,443.9 396.5,445.1 398.7,446.2 401,447.3 403.3,448.4 405.6,449.4" marker-start="url(#ob)" marker-mid="url(#ob)" marker-end="url(#ob)"/>
<polyline points="364.6,404.1 366.8,402.7 369.1,401.3 371.4,399.8 373.7,398.2 376,396.6 378.2,394.9 380.5,393.1 382.8,391.3 385.1,389.4 387.4,387.4 389.6,385.4 391.9,383.3 394.2,381.1 396.5,378.9 398.8,376.6 401.1,374.3 403.3,371.8 405.6,369.4 407.9,366.8 410.2,364.2 412.5,361.5" marker-start="url(#fb)" marker-mid="url(#fb)" marker-end="url(#fb)"/>
<polyline points="364.6,408.5 366.8,407.2 369.1,405.6 371.4,403.8 373.7,401.8 376,399.7 378.2,397.3 380.5,394.9 382.8,392.3 385.1,389.6 387.4,387.1 389.6,384.5 391.9,381.9 394.2,379.2 396.5,376.5 398.8,373.8 401.1,370.9 403.3,368.1 405.6,365.4 407.9,362.6 410.2,359.9 412.5,357.3" marker-start="url(#ob)" marker-mid="url(#ob)" marker-end="url(#ob)"/>
<polyline points="364.6,421.4 366.8,423.4 369.1,425.4 371.4,427.3 373.7,429.2 376,430.9 378.2,432.7 380.5,434.3 382.8,435.9 385.1,437.4 387.4,439 389.6,440.5 391.9,441.9 394.2,443.4 396.5,444.8 398.8,446.2 401.1,447.5 403.3,448.8 405.6,450.1 407.9,451.4 410.2,452.7 412.5,454.1" marker-start="url(#ob)" marker-mid="url(#ob)" marker-end="url(#ob)"/>
</svg>
</g>
<path d="M39.5 124v-4M45.78 124v-2M49.45 124v-2M52.06 124v-2M54.08 124v-2M55.73 124v-2M57.13 124v-2M58.34 124v-2M59.4 124v-2M60.36 124v-4M66.64 124v-2M70.31 124v-2M72.91 124v-2M74.94 124v-2M76.59 124v-2M77.98 124v-2M79.19 124v-2M80.26 124v-2M81.21 124v-4M87.49 124v-2M91.17 124v-2M93.77 124v-2M95.79 124v-2M97.44 124v-2M98.84 124v-2M100.05 124v-2M101.12 124v-2M102.07 124v-4M108.35 124v-2M112.02 124v-2M114.63 124v-2M116.65 124v-2M118.3 124v-2M119.7 124v-2M120.91 124v-2M121.97 124v-2M122.93 124v-4M129.21 124v-2M132.88 124v-2M135.49 124v-2M137.51 124v-2M139.16 124v-2M140.55 124v-2M141.76 124v-2M142.83 124v-2M143.79 124v-4M150.06 124v-2M153.74 124v-2M156.34 124v-2M158.36 124v-2M160.02 124v-2M161.41 124v-2M162.62 124v-2M163.69 124v-2M164.64 124v-4M170.92 124v-2M174.59 124v-2M177.2 124v-2M179.22 124v-2M180.87 124v-2M182.27 124v-2M183.48 124v-2M184.55 124v-2M185.5 124v-4M39.5 124h4M39.5 112.56h2M39.5 105.87h2M39.5 101.12h2M39.5 97.44h2M39.5 94.43h2M39.5 91.89h2M39.5 89.68h2M39.5 87.74h2M39.5 86h4M39.5 74.56h2M39.5 67.87h2M39.5 63.12h2M39.5 59.44h2M39.5 56.43h2M39.5 53.89h2M39.5 51.68h2M39.5 49.74h2M39.5 48h4M39.5 36.56h2M39.5 29.87h2M39.5 25.12h2M39.5 21.44h2M39.5 18.43h2M39.5 15.89h2M39.5 13.68h2M39.5 11.74h2M39.5 10h4M185.5 124h-4M185.5 115.42h-2M185.5 110.4h-2M185.5 106.84h-2M185.5 104.08h-2M185.5 101.82h-2M185.5 99.91h-2M185.5 98.26h-2M185.5 96.8h-2M185.5 95.5h-4M185.5 86.92h-2M185.5 81.9h-2M185.5 78.34h-2M185.5 75.58h-2M185.5 73.32h-2M185.5 71.41h-2M185.5 69.76h-2M185.5 68.3h-2M185.5 67h-4M185.5 58.42h-2M185.5 53.4h-2M185.5 49.84h-2M185.5 47.08h-2M185.5 44.82h-2M185.5 42.91h-2M185.5 41.26h-2M185.5 39.8h-2M185.5 38.5h-4M185.5 29.92h-2M185.5 24.9h-2M185.5 21.34h-2M185.5 18.58h-2M185.5 16.32h-2M185.5 14.41h-2M185.5 12.76h-2M185.5 11.3h-2M185.5 10h-4" stroke="#3a3a3a" stroke-width="1" fill="none"/>
<rect x="39.5" y="10" width="146" height="114" fill="none" stroke="#3a3a3a" stroke-width="1.3"/>
<text transform="translate(20.2 130.2) scale(0.9 1)" text-anchor="start" class="tl">10<tspan dx="0.7" dy="-5.8" class="sp">-1</tspan></text>
<text transform="translate(20.2 92.2) scale(0.9 1)" text-anchor="start" class="tl">10<tspan dx="0.7" dy="-5.8" class="sp">0</tspan></text>
<text transform="translate(20.2 54.2) scale(0.9 1)" text-anchor="start" class="tl">10<tspan dx="0.7" dy="-5.8" class="sp">1</tspan></text>
<text transform="translate(20.2 16.2) scale(0.9 1)" text-anchor="start" class="tl">10<tspan dx="0.7" dy="-5.8" class="sp">2</tspan></text>
<text transform="translate(187.7 130.2) scale(0.9 1)" text-anchor="start" class="tl">10<tspan dx="0.7" dy="-5.8" class="sp">-1</tspan></text>
<text transform="translate(187.7 73.2) scale(0.9 1)" text-anchor="start" class="tl">10<tspan dx="0.7" dy="-5.8" class="sp">1</tspan></text>
<text transform="translate(187.7 16.2) scale(0.9 1)" text-anchor="start" class="tl">10<tspan dx="0.7" dy="-5.8" class="sp">3</tspan></text>
<text transform="translate(40.1 141.6) scale(0.9 1)" text-anchor="middle" class="tl">10<tspan dx="0.7" dy="-5.8" class="sp">-4</tspan></text>
<text transform="translate(81.81 141.6) scale(0.9 1)" text-anchor="middle" class="tl">10<tspan dx="0.7" dy="-5.8" class="sp">-2</tspan></text>
<text transform="translate(123.53 141.6) scale(0.9 1)" text-anchor="middle" class="tl">10<tspan dx="0.7" dy="-5.8" class="sp">0</tspan></text>
<text transform="translate(165.24 141.6) scale(0.9 1)" text-anchor="middle" class="tl">10<tspan dx="0.7" dy="-5.8" class="sp">2</tspan></text>
<text class="at" transform="translate(12.2 67.5) rotate(-90)" text-anchor="middle"><tspan class="i">b</tspan><tspan class="i sb" dy="4">c</tspan><tspan dy="-4" class="i">&#8201;G</tspan>&#8242;, <tspan class="i">b</tspan><tspan class="i sb" dy="4">c</tspan><tspan dy="-4" class="i">&#8201;G</tspan>&#8243; [Pa]</text>
<text class="at" transform="translate(224.5 68) rotate(-90)" text-anchor="middle">(<tspan class="i">b</tspan><tspan class="i sb" dy="4">c</tspan><tspan dy="-4">/</tspan><tspan class="i">a</tspan><tspan class="i sb" dy="4">c</tspan><tspan dy="-4">) </tspan><tspan class="i">&#951;</tspan><tspan class="sp" dy="-5">&#160;*</tspan><tspan dy="5"> [Pa.s]</tspan></text>
<text class="at xt" x="111.3" y="159.6" text-anchor="middle"><tspan class="i">a</tspan><tspan class="sb b" dy="4.3">c</tspan><tspan class="i" dy="-4.3" dx="0.6">&#969;</tspan> [rad/s]</text>
<text class="pl" x="145.3" y="24.1" text-anchor="middle">(a)</text>
<path d="M274.5 124v-4M280.78 124v-2M284.45 124v-2M287.06 124v-2M289.08 124v-2M290.73 124v-2M292.13 124v-2M293.34 124v-2M294.4 124v-2M295.36 124v-4M301.64 124v-2M305.31 124v-2M307.91 124v-2M309.94 124v-2M311.59 124v-2M312.98 124v-2M314.19 124v-2M315.26 124v-2M316.21 124v-4M322.49 124v-2M326.17 124v-2M328.77 124v-2M330.79 124v-2M332.44 124v-2M333.84 124v-2M335.05 124v-2M336.12 124v-2M337.07 124v-4M343.35 124v-2M347.02 124v-2M349.63 124v-2M351.65 124v-2M353.3 124v-2M354.7 124v-2M355.91 124v-2M356.97 124v-2M357.93 124v-4M364.21 124v-2M367.88 124v-2M370.49 124v-2M372.51 124v-2M374.16 124v-2M375.55 124v-2M376.76 124v-2M377.83 124v-2M378.79 124v-4M385.06 124v-2M388.74 124v-2M391.34 124v-2M393.36 124v-2M395.02 124v-2M396.41 124v-2M397.62 124v-2M398.69 124v-2M399.64 124v-4M405.92 124v-2M409.59 124v-2M412.2 124v-2M414.22 124v-2M415.87 124v-2M417.27 124v-2M418.48 124v-2M419.55 124v-2M420.5 124v-4M274.5 124h4M274.5 112.56h2M274.5 105.87h2M274.5 101.12h2M274.5 97.44h2M274.5 94.43h2M274.5 91.89h2M274.5 89.68h2M274.5 87.74h2M274.5 86h4M274.5 74.56h2M274.5 67.87h2M274.5 63.12h2M274.5 59.44h2M274.5 56.43h2M274.5 53.89h2M274.5 51.68h2M274.5 49.74h2M274.5 48h4M274.5 36.56h2M274.5 29.87h2M274.5 25.12h2M274.5 21.44h2M274.5 18.43h2M274.5 15.89h2M274.5 13.68h2M274.5 11.74h2M274.5 10h4M420.5 124h-4M420.5 115.42h-2M420.5 110.4h-2M420.5 106.84h-2M420.5 104.08h-2M420.5 101.82h-2M420.5 99.91h-2M420.5 98.26h-2M420.5 96.8h-2M420.5 95.5h-4M420.5 86.92h-2M420.5 81.9h-2M420.5 78.34h-2M420.5 75.58h-2M420.5 73.32h-2M420.5 71.41h-2M420.5 69.76h-2M420.5 68.3h-2M420.5 67h-4M420.5 58.42h-2M420.5 53.4h-2M420.5 49.84h-2M420.5 47.08h-2M420.5 44.82h-2M420.5 42.91h-2M420.5 41.26h-2M420.5 39.8h-2M420.5 38.5h-4M420.5 29.92h-2M420.5 24.9h-2M420.5 21.34h-2M420.5 18.58h-2M420.5 16.32h-2M420.5 14.41h-2M420.5 12.76h-2M420.5 11.3h-2M420.5 10h-4" stroke="#3a3a3a" stroke-width="1" fill="none"/>
<rect x="274.5" y="10" width="146" height="114" fill="none" stroke="#3a3a3a" stroke-width="1.3"/>
<text transform="translate(255.2 130.2) scale(0.9 1)" text-anchor="start" class="tl">10<tspan dx="0.7" dy="-5.8" class="sp">-1</tspan></text>
<text transform="translate(255.2 92.2) scale(0.9 1)" text-anchor="start" class="tl">10<tspan dx="0.7" dy="-5.8" class="sp">0</tspan></text>
<text transform="translate(255.2 54.2) scale(0.9 1)" text-anchor="start" class="tl">10<tspan dx="0.7" dy="-5.8" class="sp">1</tspan></text>
<text transform="translate(255.2 16.2) scale(0.9 1)" text-anchor="start" class="tl">10<tspan dx="0.7" dy="-5.8" class="sp">2</tspan></text>
<text transform="translate(422.7 130.2) scale(0.9 1)" text-anchor="start" class="tl">10<tspan dx="0.7" dy="-5.8" class="sp">-1</tspan></text>
<text transform="translate(422.7 73.2) scale(0.9 1)" text-anchor="start" class="tl">10<tspan dx="0.7" dy="-5.8" class="sp">1</tspan></text>
<text transform="translate(422.7 16.2) scale(0.9 1)" text-anchor="start" class="tl">10<tspan dx="0.7" dy="-5.8" class="sp">3</tspan></text>
<text transform="translate(275.1 141.6) scale(0.9 1)" text-anchor="middle" class="tl">10<tspan dx="0.7" dy="-5.8" class="sp">-4</tspan></text>
<text transform="translate(316.81 141.6) scale(0.9 1)" text-anchor="middle" class="tl">10<tspan dx="0.7" dy="-5.8" class="sp">-2</tspan></text>
<text transform="translate(358.53 141.6) scale(0.9 1)" text-anchor="middle" class="tl">10<tspan dx="0.7" dy="-5.8" class="sp">0</tspan></text>
<text transform="translate(400.24 141.6) scale(0.9 1)" text-anchor="middle" class="tl">10<tspan dx="0.7" dy="-5.8" class="sp">2</tspan></text>
<text class="at" transform="translate(247.2 67.5) rotate(-90)" text-anchor="middle"><tspan class="i">b</tspan><tspan class="i sb" dy="4">c</tspan><tspan dy="-4" class="i">&#8201;G</tspan>&#8242;, <tspan class="i">b</tspan><tspan class="i sb" dy="4">c</tspan><tspan dy="-4" class="i">&#8201;G</tspan>&#8243; [Pa]</text>
<text class="at" transform="translate(459.5 68) rotate(-90)" text-anchor="middle">(<tspan class="i">b</tspan><tspan class="i sb" dy="4">c</tspan><tspan dy="-4">/</tspan><tspan class="i">a</tspan><tspan class="i sb" dy="4">c</tspan><tspan dy="-4">) </tspan><tspan class="i">&#951;</tspan><tspan class="sp" dy="-5">&#160;*</tspan><tspan dy="5"> [Pa.s]</tspan></text>
<text class="at xt" x="346.3" y="159.6" text-anchor="middle"><tspan class="i">a</tspan><tspan class="sb b" dy="4.3">c</tspan><tspan class="i" dy="-4.3" dx="0.6">&#969;</tspan> [rad/s]</text>
<text class="pl" x="383.7" y="25.8" text-anchor="middle">(b)</text>
<path d="M39.5 291.8v-4M45.78 291.8v-2M49.45 291.8v-2M52.06 291.8v-2M54.08 291.8v-2M55.73 291.8v-2M57.13 291.8v-2M58.34 291.8v-2M59.4 291.8v-2M60.36 291.8v-4M66.64 291.8v-2M70.31 291.8v-2M72.91 291.8v-2M74.94 291.8v-2M76.59 291.8v-2M77.98 291.8v-2M79.19 291.8v-2M80.26 291.8v-2M81.21 291.8v-4M87.49 291.8v-2M91.17 291.8v-2M93.77 291.8v-2M95.79 291.8v-2M97.44 291.8v-2M98.84 291.8v-2M100.05 291.8v-2M101.12 291.8v-2M102.07 291.8v-4M108.35 291.8v-2M112.02 291.8v-2M114.63 291.8v-2M116.65 291.8v-2M118.3 291.8v-2M119.7 291.8v-2M120.91 291.8v-2M121.97 291.8v-2M122.93 291.8v-4M129.21 291.8v-2M132.88 291.8v-2M135.49 291.8v-2M137.51 291.8v-2M139.16 291.8v-2M140.55 291.8v-2M141.76 291.8v-2M142.83 291.8v-2M143.79 291.8v-4M150.06 291.8v-2M153.74 291.8v-2M156.34 291.8v-2M158.36 291.8v-2M160.02 291.8v-2M161.41 291.8v-2M162.62 291.8v-2M163.69 291.8v-2M164.64 291.8v-4M170.92 291.8v-2M174.59 291.8v-2M177.2 291.8v-2M179.22 291.8v-2M180.87 291.8v-2M182.27 291.8v-2M183.48 291.8v-2M184.55 291.8v-2M185.5 291.8v-4M39.5 291.8h4M39.5 280.36h2M39.5 273.67h2M39.5 268.92h2M39.5 265.24h2M39.5 262.23h2M39.5 259.69h2M39.5 257.48h2M39.5 255.54h2M39.5 253.8h4M39.5 242.36h2M39.5 235.67h2M39.5 230.92h2M39.5 227.24h2M39.5 224.23h2M39.5 221.69h2M39.5 219.48h2M39.5 217.54h2M39.5 215.8h4M39.5 204.36h2M39.5 197.67h2M39.5 192.92h2M39.5 189.24h2M39.5 186.23h2M39.5 183.69h2M39.5 181.48h2M39.5 179.54h2M39.5 177.8h4M185.5 291.8h-4M185.5 283.22h-2M185.5 278.2h-2M185.5 274.64h-2M185.5 271.88h-2M185.5 269.62h-2M185.5 267.71h-2M185.5 266.06h-2M185.5 264.6h-2M185.5 263.3h-4M185.5 254.72h-2M185.5 249.7h-2M185.5 246.14h-2M185.5 243.38h-2M185.5 241.12h-2M185.5 239.21h-2M185.5 237.56h-2M185.5 236.1h-2M185.5 234.8h-4M185.5 226.22h-2M185.5 221.2h-2M185.5 217.64h-2M185.5 214.88h-2M185.5 212.62h-2M185.5 210.71h-2M185.5 209.06h-2M185.5 207.6h-2M185.5 206.3h-4M185.5 197.72h-2M185.5 192.7h-2M185.5 189.14h-2M185.5 186.38h-2M185.5 184.12h-2M185.5 182.21h-2M185.5 180.56h-2M185.5 179.1h-2M185.5 177.8h-4" stroke="#3a3a3a" stroke-width="1" fill="none"/>
<rect x="39.5" y="177.8" width="146" height="114" fill="none" stroke="#3a3a3a" stroke-width="1.3"/>
<text transform="translate(20.2 298) scale(0.9 1)" text-anchor="start" class="tl">10<tspan dx="0.7" dy="-5.8" class="sp">-1</tspan></text>
<text transform="translate(20.2 260) scale(0.9 1)" text-anchor="start" class="tl">10<tspan dx="0.7" dy="-5.8" class="sp">0</tspan></text>
<text transform="translate(20.2 222) scale(0.9 1)" text-anchor="start" class="tl">10<tspan dx="0.7" dy="-5.8" class="sp">1</tspan></text>
<text transform="translate(20.2 184) scale(0.9 1)" text-anchor="start" class="tl">10<tspan dx="0.7" dy="-5.8" class="sp">2</tspan></text>
<text transform="translate(187.7 298) scale(0.9 1)" text-anchor="start" class="tl">10<tspan dx="0.7" dy="-5.8" class="sp">-1</tspan></text>
<text transform="translate(187.7 241) scale(0.9 1)" text-anchor="start" class="tl">10<tspan dx="0.7" dy="-5.8" class="sp">1</tspan></text>
<text transform="translate(187.7 184) scale(0.9 1)" text-anchor="start" class="tl">10<tspan dx="0.7" dy="-5.8" class="sp">3</tspan></text>
<text transform="translate(40.1 309.4) scale(0.9 1)" text-anchor="middle" class="tl">10<tspan dx="0.7" dy="-5.8" class="sp">-4</tspan></text>
<text transform="translate(81.81 309.4) scale(0.9 1)" text-anchor="middle" class="tl">10<tspan dx="0.7" dy="-5.8" class="sp">-2</tspan></text>
<text transform="translate(123.53 309.4) scale(0.9 1)" text-anchor="middle" class="tl">10<tspan dx="0.7" dy="-5.8" class="sp">0</tspan></text>
<text transform="translate(165.24 309.4) scale(0.9 1)" text-anchor="middle" class="tl">10<tspan dx="0.7" dy="-5.8" class="sp">2</tspan></text>
<text class="at" transform="translate(12.2 235.3) rotate(-90)" text-anchor="middle"><tspan class="i">b</tspan><tspan class="i sb" dy="4">c</tspan><tspan dy="-4" class="i">&#8201;G</tspan>&#8242;, <tspan class="i">b</tspan><tspan class="i sb" dy="4">c</tspan><tspan dy="-4" class="i">&#8201;G</tspan>&#8243; [Pa]</text>
<text class="at" transform="translate(224.5 235.8) rotate(-90)" text-anchor="middle">(<tspan class="i">b</tspan><tspan class="i sb" dy="4">c</tspan><tspan dy="-4">/</tspan><tspan class="i">a</tspan><tspan class="i sb" dy="4">c</tspan><tspan dy="-4">) </tspan><tspan class="i">&#951;</tspan><tspan class="sp" dy="-5">&#160;*</tspan><tspan dy="5"> [Pa.s]</tspan></text>
<text class="at xt" x="111.3" y="327.4" text-anchor="middle"><tspan class="i">a</tspan><tspan class="sb b" dy="4.3">c</tspan><tspan class="i" dy="-4.3" dx="0.6">&#969;</tspan> [rad/s]</text>
<text class="pl" x="144.5" y="194.6" text-anchor="middle">(c)</text>
<path d="M274.5 291.8v-4M280.78 291.8v-2M284.45 291.8v-2M287.06 291.8v-2M289.08 291.8v-2M290.73 291.8v-2M292.13 291.8v-2M293.34 291.8v-2M294.4 291.8v-2M295.36 291.8v-4M301.64 291.8v-2M305.31 291.8v-2M307.91 291.8v-2M309.94 291.8v-2M311.59 291.8v-2M312.98 291.8v-2M314.19 291.8v-2M315.26 291.8v-2M316.21 291.8v-4M322.49 291.8v-2M326.17 291.8v-2M328.77 291.8v-2M330.79 291.8v-2M332.44 291.8v-2M333.84 291.8v-2M335.05 291.8v-2M336.12 291.8v-2M337.07 291.8v-4M343.35 291.8v-2M347.02 291.8v-2M349.63 291.8v-2M351.65 291.8v-2M353.3 291.8v-2M354.7 291.8v-2M355.91 291.8v-2M356.97 291.8v-2M357.93 291.8v-4M364.21 291.8v-2M367.88 291.8v-2M370.49 291.8v-2M372.51 291.8v-2M374.16 291.8v-2M375.55 291.8v-2M376.76 291.8v-2M377.83 291.8v-2M378.79 291.8v-4M385.06 291.8v-2M388.74 291.8v-2M391.34 291.8v-2M393.36 291.8v-2M395.02 291.8v-2M396.41 291.8v-2M397.62 291.8v-2M398.69 291.8v-2M399.64 291.8v-4M405.92 291.8v-2M409.59 291.8v-2M412.2 291.8v-2M414.22 291.8v-2M415.87 291.8v-2M417.27 291.8v-2M418.48 291.8v-2M419.55 291.8v-2M420.5 291.8v-4M274.5 291.8h4M274.5 280.36h2M274.5 273.67h2M274.5 268.92h2M274.5 265.24h2M274.5 262.23h2M274.5 259.69h2M274.5 257.48h2M274.5 255.54h2M274.5 253.8h4M274.5 242.36h2M274.5 235.67h2M274.5 230.92h2M274.5 227.24h2M274.5 224.23h2M274.5 221.69h2M274.5 219.48h2M274.5 217.54h2M274.5 215.8h4M274.5 204.36h2M274.5 197.67h2M274.5 192.92h2M274.5 189.24h2M274.5 186.23h2M274.5 183.69h2M274.5 181.48h2M274.5 179.54h2M274.5 177.8h4M420.5 291.8h-4M420.5 283.22h-2M420.5 278.2h-2M420.5 274.64h-2M420.5 271.88h-2M420.5 269.62h-2M420.5 267.71h-2M420.5 266.06h-2M420.5 264.6h-2M420.5 263.3h-4M420.5 254.72h-2M420.5 249.7h-2M420.5 246.14h-2M420.5 243.38h-2M420.5 241.12h-2M420.5 239.21h-2M420.5 237.56h-2M420.5 236.1h-2M420.5 234.8h-4M420.5 226.22h-2M420.5 221.2h-2M420.5 217.64h-2M420.5 214.88h-2M420.5 212.62h-2M420.5 210.71h-2M420.5 209.06h-2M420.5 207.6h-2M420.5 206.3h-4M420.5 197.72h-2M420.5 192.7h-2M420.5 189.14h-2M420.5 186.38h-2M420.5 184.12h-2M420.5 182.21h-2M420.5 180.56h-2M420.5 179.1h-2M420.5 177.8h-4" stroke="#3a3a3a" stroke-width="1" fill="none"/>
<rect x="274.5" y="177.8" width="146" height="114" fill="none" stroke="#3a3a3a" stroke-width="1.3"/>
<text transform="translate(255.2 298) scale(0.9 1)" text-anchor="start" class="tl">10<tspan dx="0.7" dy="-5.8" class="sp">-1</tspan></text>
<text transform="translate(255.2 260) scale(0.9 1)" text-anchor="start" class="tl">10<tspan dx="0.7" dy="-5.8" class="sp">0</tspan></text>
<text transform="translate(255.2 222) scale(0.9 1)" text-anchor="start" class="tl">10<tspan dx="0.7" dy="-5.8" class="sp">1</tspan></text>
<text transform="translate(255.2 184) scale(0.9 1)" text-anchor="start" class="tl">10<tspan dx="0.7" dy="-5.8" class="sp">2</tspan></text>
<text transform="translate(422.7 298) scale(0.9 1)" text-anchor="start" class="tl">10<tspan dx="0.7" dy="-5.8" class="sp">-1</tspan></text>
<text transform="translate(422.7 241) scale(0.9 1)" text-anchor="start" class="tl">10<tspan dx="0.7" dy="-5.8" class="sp">1</tspan></text>
<text transform="translate(422.7 184) scale(0.9 1)" text-anchor="start" class="tl">10<tspan dx="0.7" dy="-5.8" class="sp">3</tspan></text>
<text transform="translate(275.1 309.4) scale(0.9 1)" text-anchor="middle" class="tl">10<tspan dx="0.7" dy="-5.8" class="sp">-4</tspan></text>
<text transform="translate(316.81 309.4) scale(0.9 1)" text-anchor="middle" class="tl">10<tspan dx="0.7" dy="-5.8" class="sp">-2</tspan></text>
<text transform="translate(358.53 309.4) scale(0.9 1)" text-anchor="middle" class="tl">10<tspan dx="0.7" dy="-5.8" class="sp">0</tspan></text>
<text transform="translate(400.24 309.4) scale(0.9 1)" text-anchor="middle" class="tl">10<tspan dx="0.7" dy="-5.8" class="sp">2</tspan></text>
<text class="at" transform="translate(247.2 235.3) rotate(-90)" text-anchor="middle"><tspan class="i">b</tspan><tspan class="i sb" dy="4">c</tspan><tspan dy="-4" class="i">&#8201;G</tspan>&#8242;, <tspan class="i">b</tspan><tspan class="i sb" dy="4">c</tspan><tspan dy="-4" class="i">&#8201;G</tspan>&#8243; [Pa]</text>
<text class="at" transform="translate(459.5 235.8) rotate(-90)" text-anchor="middle">(<tspan class="i">b</tspan><tspan class="i sb" dy="4">c</tspan><tspan dy="-4">/</tspan><tspan class="i">a</tspan><tspan class="i sb" dy="4">c</tspan><tspan dy="-4">) </tspan><tspan class="i">&#951;</tspan><tspan class="sp" dy="-5">&#160;*</tspan><tspan dy="5"> [Pa.s]</tspan></text>
<text class="at xt" x="346.3" y="327.4" text-anchor="middle"><tspan class="i">a</tspan><tspan class="sb b" dy="4.3">c</tspan><tspan class="i" dy="-4.3" dx="0.6">&#969;</tspan> [rad/s]</text>
<text class="pl" x="383.2" y="194.6" text-anchor="middle">(d)</text>
<path d="M39.5 459v-4M45.78 459v-2M49.45 459v-2M52.06 459v-2M54.08 459v-2M55.73 459v-2M57.13 459v-2M58.34 459v-2M59.4 459v-2M60.36 459v-4M66.64 459v-2M70.31 459v-2M72.91 459v-2M74.94 459v-2M76.59 459v-2M77.98 459v-2M79.19 459v-2M80.26 459v-2M81.21 459v-4M87.49 459v-2M91.17 459v-2M93.77 459v-2M95.79 459v-2M97.44 459v-2M98.84 459v-2M100.05 459v-2M101.12 459v-2M102.07 459v-4M108.35 459v-2M112.02 459v-2M114.63 459v-2M116.65 459v-2M118.3 459v-2M119.7 459v-2M120.91 459v-2M121.97 459v-2M122.93 459v-4M129.21 459v-2M132.88 459v-2M135.49 459v-2M137.51 459v-2M139.16 459v-2M140.55 459v-2M141.76 459v-2M142.83 459v-2M143.79 459v-4M150.06 459v-2M153.74 459v-2M156.34 459v-2M158.36 459v-2M160.02 459v-2M161.41 459v-2M162.62 459v-2M163.69 459v-2M164.64 459v-4M170.92 459v-2M174.59 459v-2M177.2 459v-2M179.22 459v-2M180.87 459v-2M182.27 459v-2M183.48 459v-2M184.55 459v-2M185.5 459v-4M39.5 459h4M39.5 447.56h2M39.5 440.87h2M39.5 436.12h2M39.5 432.44h2M39.5 429.43h2M39.5 426.89h2M39.5 424.68h2M39.5 422.74h2M39.5 421h4M39.5 409.56h2M39.5 402.87h2M39.5 398.12h2M39.5 394.44h2M39.5 391.43h2M39.5 388.89h2M39.5 386.68h2M39.5 384.74h2M39.5 383h4M39.5 371.56h2M39.5 364.87h2M39.5 360.12h2M39.5 356.44h2M39.5 353.43h2M39.5 350.89h2M39.5 348.68h2M39.5 346.74h2M39.5 345h4M185.5 459h-4M185.5 450.42h-2M185.5 445.4h-2M185.5 441.84h-2M185.5 439.08h-2M185.5 436.82h-2M185.5 434.91h-2M185.5 433.26h-2M185.5 431.8h-2M185.5 430.5h-4M185.5 421.92h-2M185.5 416.9h-2M185.5 413.34h-2M185.5 410.58h-2M185.5 408.32h-2M185.5 406.41h-2M185.5 404.76h-2M185.5 403.3h-2M185.5 402h-4M185.5 393.42h-2M185.5 388.4h-2M185.5 384.84h-2M185.5 382.08h-2M185.5 379.82h-2M185.5 377.91h-2M185.5 376.26h-2M185.5 374.8h-2M185.5 373.5h-4M185.5 364.92h-2M185.5 359.9h-2M185.5 356.34h-2M185.5 353.58h-2M185.5 351.32h-2M185.5 349.41h-2M185.5 347.76h-2M185.5 346.3h-2M185.5 345h-4" stroke="#3a3a3a" stroke-width="1" fill="none"/>
<rect x="39.5" y="345" width="146" height="114" fill="none" stroke="#3a3a3a" stroke-width="1.3"/>
<text transform="translate(20.2 465.2) scale(0.9 1)" text-anchor="start" class="tl">10<tspan dx="0.7" dy="-5.8" class="sp">-1</tspan></text>
<text transform="translate(20.2 427.2) scale(0.9 1)" text-anchor="start" class="tl">10<tspan dx="0.7" dy="-5.8" class="sp">0</tspan></text>
<text transform="translate(20.2 389.2) scale(0.9 1)" text-anchor="start" class="tl">10<tspan dx="0.7" dy="-5.8" class="sp">1</tspan></text>
<text transform="translate(20.2 351.2) scale(0.9 1)" text-anchor="start" class="tl">10<tspan dx="0.7" dy="-5.8" class="sp">2</tspan></text>
<text transform="translate(187.7 465.2) scale(0.9 1)" text-anchor="start" class="tl">10<tspan dx="0.7" dy="-5.8" class="sp">-1</tspan></text>
<text transform="translate(187.7 408.2) scale(0.9 1)" text-anchor="start" class="tl">10<tspan dx="0.7" dy="-5.8" class="sp">1</tspan></text>
<text transform="translate(187.7 351.2) scale(0.9 1)" text-anchor="start" class="tl">10<tspan dx="0.7" dy="-5.8" class="sp">3</tspan></text>
<text transform="translate(40.1 476.6) scale(0.9 1)" text-anchor="middle" class="tl">10<tspan dx="0.7" dy="-5.8" class="sp">-4</tspan></text>
<text transform="translate(81.81 476.6) scale(0.9 1)" text-anchor="middle" class="tl">10<tspan dx="0.7" dy="-5.8" class="sp">-2</tspan></text>
<text transform="translate(123.53 476.6) scale(0.9 1)" text-anchor="middle" class="tl">10<tspan dx="0.7" dy="-5.8" class="sp">0</tspan></text>
<text transform="translate(165.24 476.6) scale(0.9 1)" text-anchor="middle" class="tl">10<tspan dx="0.7" dy="-5.8" class="sp">2</tspan></text>
<text class="at" transform="translate(12.2 402.5) rotate(-90)" text-anchor="middle"><tspan class="i">b</tspan><tspan class="i sb" dy="4">c</tspan><tspan dy="-4" class="i">&#8201;G</tspan>&#8242;, <tspan class="i">b</tspan><tspan class="i sb" dy="4">c</tspan><tspan dy="-4" class="i">&#8201;G</tspan>&#8243; [Pa]</text>
<text class="at" transform="translate(224.5 403) rotate(-90)" text-anchor="middle">(<tspan class="i">b</tspan><tspan class="i sb" dy="4">c</tspan><tspan dy="-4">/</tspan><tspan class="i">a</tspan><tspan class="i sb" dy="4">c</tspan><tspan dy="-4">) </tspan><tspan class="i">&#951;</tspan><tspan class="sp" dy="-5">&#160;*</tspan><tspan dy="5"> [Pa.s]</tspan></text>
<text class="at xt" x="111.3" y="494.6" text-anchor="middle"><tspan class="i">a</tspan><tspan class="sb b" dy="4.3">c</tspan><tspan class="i" dy="-4.3" dx="0.6">&#969;</tspan> [rad/s]</text>
<text class="pl" x="145.3" y="361.2" text-anchor="middle">(e)</text>
<path d="M275.41 459v-4M282.28 459v-2M286.3 459v-2M289.15 459v-2M291.36 459v-2M293.16 459v-2M294.69 459v-2M296.01 459v-2M297.18 459v-2M298.23 459v-4M305.09 459v-2M309.11 459v-2M311.96 459v-2M314.17 459v-2M315.98 459v-2M317.5 459v-2M318.83 459v-2M319.99 459v-2M321.04 459v-4M327.9 459v-2M331.92 459v-2M334.77 459v-2M336.98 459v-2M338.79 459v-2M340.32 459v-2M341.64 459v-2M342.81 459v-2M343.85 459v-4M350.72 459v-2M354.73 459v-2M357.58 459v-2M359.8 459v-2M361.6 459v-2M363.13 459v-2M364.45 459v-2M365.62 459v-2M366.66 459v-4M373.53 459v-2M377.55 459v-2M380.4 459v-2M382.61 459v-2M384.41 459v-2M385.94 459v-2M387.26 459v-2M388.43 459v-2M389.48 459v-4M396.34 459v-2M400.36 459v-2M403.21 459v-2M405.42 459v-2M407.23 459v-2M408.75 459v-2M410.08 459v-2M411.24 459v-2M412.29 459v-4M419.15 459v-2M274.5 459h4M274.5 444.21h2M274.5 435.56h2M274.5 429.42h2M274.5 424.65h2M274.5 420.76h2M274.5 417.47h2M274.5 414.62h2M274.5 412.11h2M274.5 409.86h4M274.5 395.07h2M274.5 386.42h2M274.5 380.28h2M274.5 375.52h2M274.5 371.63h2M274.5 368.34h2M274.5 365.49h2M274.5 362.97h2M274.5 360.72h4M274.5 345.93h2M420.5 459h-4M420.5 450.42h-2M420.5 445.4h-2M420.5 441.84h-2M420.5 439.08h-2M420.5 436.82h-2M420.5 434.91h-2M420.5 433.26h-2M420.5 431.8h-2M420.5 430.5h-4M420.5 421.92h-2M420.5 416.9h-2M420.5 413.34h-2M420.5 410.58h-2M420.5 408.32h-2M420.5 406.41h-2M420.5 404.76h-2M420.5 403.3h-2M420.5 402h-4M420.5 393.42h-2M420.5 388.4h-2M420.5 384.84h-2M420.5 382.08h-2M420.5 379.82h-2M420.5 377.91h-2M420.5 376.26h-2M420.5 374.8h-2M420.5 373.5h-4M420.5 364.92h-2M420.5 359.9h-2M420.5 356.34h-2M420.5 353.58h-2M420.5 351.32h-2M420.5 349.41h-2M420.5 347.76h-2M420.5 346.3h-2M420.5 345h-4" stroke="#3a3a3a" stroke-width="1" fill="none"/>
<rect x="274.5" y="345" width="146" height="114" fill="none" stroke="#3a3a3a" stroke-width="1.3"/>
<text transform="translate(255.2 465.2) scale(0.9 1)" text-anchor="start" class="tl">10<tspan dx="0.7" dy="-5.8" class="sp">-1</tspan></text>
<text transform="translate(255.2 416.06) scale(0.9 1)" text-anchor="start" class="tl">10<tspan dx="0.7" dy="-5.8" class="sp">0</tspan></text>
<text transform="translate(255.2 366.92) scale(0.9 1)" text-anchor="start" class="tl">10<tspan dx="0.7" dy="-5.8" class="sp">1</tspan></text>
<text transform="translate(422.7 465.2) scale(0.9 1)" text-anchor="start" class="tl">10<tspan dx="0.7" dy="-5.8" class="sp">-1</tspan></text>
<text transform="translate(422.7 408.2) scale(0.9 1)" text-anchor="start" class="tl">10<tspan dx="0.7" dy="-5.8" class="sp">1</tspan></text>
<text transform="translate(422.7 351.2) scale(0.9 1)" text-anchor="start" class="tl">10<tspan dx="0.7" dy="-5.8" class="sp">3</tspan></text>
<text transform="translate(276.01 476.6) scale(0.9 1)" text-anchor="middle" class="tl">10<tspan dx="0.7" dy="-5.8" class="sp">-4</tspan></text>
<text transform="translate(321.64 476.6) scale(0.9 1)" text-anchor="middle" class="tl">10<tspan dx="0.7" dy="-5.8" class="sp">-2</tspan></text>
<text transform="translate(367.26 476.6) scale(0.9 1)" text-anchor="middle" class="tl">10<tspan dx="0.7" dy="-5.8" class="sp">0</tspan></text>
<text transform="translate(412.89 476.6) scale(0.9 1)" text-anchor="middle" class="tl">10<tspan dx="0.7" dy="-5.8" class="sp">2</tspan></text>
<text class="at" transform="translate(247.2 402.5) rotate(-90)" text-anchor="middle"><tspan class="i">b</tspan><tspan class="i sb" dy="4">c</tspan><tspan dy="-4" class="i">&#8201;G</tspan>&#8242;, <tspan class="i">b</tspan><tspan class="i sb" dy="4">c</tspan><tspan dy="-4" class="i">&#8201;G</tspan>&#8243; [Pa]</text>
<text class="at" transform="translate(459.5 403) rotate(-90)" text-anchor="middle">(<tspan class="i">b</tspan><tspan class="i sb" dy="4">c</tspan><tspan dy="-4">/</tspan><tspan class="i">a</tspan><tspan class="i sb" dy="4">c</tspan><tspan dy="-4">) </tspan><tspan class="i">&#951;</tspan><tspan class="sp" dy="-5">&#160;*</tspan><tspan dy="5"> [Pa.s]</tspan></text>
<text class="at xt" x="346.3" y="494.6" text-anchor="middle"><tspan class="i">a</tspan><tspan class="sb b" dy="4.3">c</tspan><tspan class="i" dy="-4.3" dx="0.6">&#969;</tspan> [rad/s]</text>
<text class="pl" x="383.3" y="360.8" text-anchor="middle">(f)</text>
<circle cx="56.9" cy="517.4" r="2.7" fill="#ff0000"/>
<circle cx="56.9" cy="528.5" r="2.5" fill="none" stroke="#ff0000" stroke-width="0.7"/>
<path d="M56.9 536.9l3 5.4h-6z" fill="none" stroke="#ff0000" stroke-width="0.7"/>
<text class="lg" x="70.5" y="521.2">92.1c*(G&#8242;)</text>
<text class="lg" x="70.5" y="532.3">92.1c*(G&#8243;)</text>
<text class="lg" x="70.5" y="543.1">92.1c*(&#951;*)</text>
<circle cx="133" cy="517.4" r="2.7" fill="#00e800"/>
<circle cx="133" cy="528.5" r="2.5" fill="none" stroke="#00e800" stroke-width="0.7"/>
<path d="M133 536.9l3 5.4h-6z" fill="none" stroke="#00e800" stroke-width="0.7"/>
<text class="lg" x="146.6" y="521.2">63.3c*(G&#8242;)</text>
<text class="lg" x="146.6" y="532.3">63.3c*(G&#8243;)</text>
<text class="lg" x="146.6" y="543.1">63.3c*(&#951;*)</text>
<circle cx="209.1" cy="517.4" r="2.7" fill="#ffa500"/>
<circle cx="209.1" cy="528.5" r="2.5" fill="none" stroke="#ffa500" stroke-width="0.7"/>
<path d="M209.1 536.9l3 5.4h-6z" fill="none" stroke="#ffa500" stroke-width="0.7"/>
<text class="lg" x="222.7" y="521.2">49.9c*(G&#8242;)</text>
<text class="lg" x="222.7" y="532.3">49.9c*(G&#8243;)</text>
<text class="lg" x="222.7" y="543.1">49.9c*(&#951;*)</text>
<circle cx="285.2" cy="517.4" r="2.7" fill="#7a7a7a"/>
<circle cx="285.2" cy="528.5" r="2.5" fill="none" stroke="#7a7a7a" stroke-width="0.7"/>
<path d="M285.2 536.9l3 5.4h-6z" fill="none" stroke="#7a7a7a" stroke-width="0.7"/>
<text class="lg" x="298.8" y="521.2">38.4c*(G&#8242;)</text>
<text class="lg" x="298.8" y="532.3">38.4c*(G&#8243;)</text>
<text class="lg" x="298.8" y="543.1">38.4c*(&#951;*)</text>
<circle cx="361.3" cy="517.4" r="2.7" fill="#ff7a10"/>
<circle cx="361.3" cy="528.5" r="2.5" fill="none" stroke="#ff7a10" stroke-width="0.7"/>
<path d="M361.3 536.9l3 5.4h-6z" fill="none" stroke="#ff7a10" stroke-width="0.7"/>
<text class="lg" x="374.9" y="521.2">17.3c*(G&#8242;)</text>
<text class="lg" x="374.9" y="532.3">17.3c*(G&#8243;)</text>
<text class="lg" x="374.9" y="543.1">17.3c*(&#951;*)</text>
</g></svg>
</body></html>
